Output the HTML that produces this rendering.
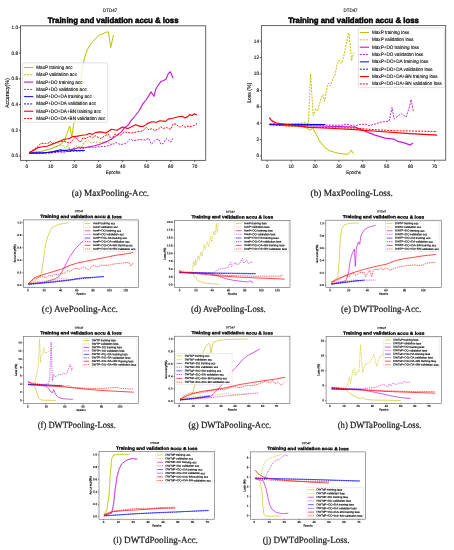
<!DOCTYPE html><html><head><meta charset="utf-8"><style>html,body{margin:0;padding:0;background:#fff;width:454px;height:550px;overflow:hidden}svg{display:block;filter:blur(0.35px)}text{font-family:"Liberation Sans",sans-serif;text-rendering:geometricPrecision}</style></head><body>
<svg width="454" height="550" viewBox="0 0 454 550">
<rect width="454" height="550" fill="#fff"/>
<clipPath id="cpa"><rect x="20.5" y="25.8" width="185.2" height="134.6"/></clipPath>
<g clip-path="url(#cpa)">
<polyline points="29.40,152.90 42.60,151.10 51.40,148.50 60.00,145.00 64.40,141.00 67.00,133.50 69.70,126.00 71.90,137.00 73.70,123.80 74.50,122.50 77.00,105.00 79.50,88.00 81.60,75.00 83.20,63.50 85.40,54.70 87.60,49.20 90.90,43.70 95.30,38.80 99.70,34.90 103.00,33.80 106.30,32.20 108.30,31.80 110.70,47.60 113.50,34.90" fill="none" stroke="#bfbf00" stroke-width="1.0" stroke-linejoin="round" stroke-linecap="butt"/>
<polyline points="29.40,152.90 42.60,151.10 51.40,148.50 60.20,145.00 62.60,145.00 65.30,148.50 67.90,144.50 70.60,152.00 73.20,148.50 76.70,145.80 82.00,146.70 83.80,142.30 86.40,141.00 89.10,141.00 91.70,143.20 95.20,141.90 100.00,142.30 106.00,141.90 111.50,144.00 113.10,143.00" fill="none" stroke="#bfbf00" stroke-width="1.0" stroke-dasharray="1.9 1.2" stroke-linejoin="round" stroke-linecap="butt"/>
<polyline points="29.40,153.20 45.00,152.80 60.00,151.10 68.80,149.80 77.60,148.00 86.40,147.20 95.00,145.70 100.50,144.00 106.00,141.90 111.50,139.10 117.00,135.20 121.40,131.90 124.70,127.50 128.00,125.30 131.30,120.40 134.60,116.50 139.00,111.00 142.40,104.40 146.40,99.50 151.10,91.90 153.90,96.30 156.00,88.50 161.00,81.40 163.20,80.80 166.00,79.20 168.20,73.70 170.40,71.80 173.10,78.40" fill="none" stroke="#c41ccf" stroke-width="1.15" stroke-linejoin="round" stroke-linecap="butt"/>
<polyline points="29.40,153.50 50.00,153.00 60.00,152.00 64.40,152.90 68.80,148.90 73.20,150.20 77.60,147.60 82.00,148.90 86.40,147.60 95.20,147.20 100.00,146.70 106.00,146.30 113.70,144.00 115.90,142.40 120.30,144.60 125.80,143.50 130.20,139.10 133.50,140.70 140.00,139.50 145.50,140.00 148.60,138.20 151.40,144.10 156.40,139.50 158.60,139.10 160.90,144.10 163.20,143.60 166.40,138.60 170.90,142.30 172.70,138.60" fill="none" stroke="#c41ccf" stroke-width="1.0" stroke-dasharray="1.9 1.2" stroke-linejoin="round" stroke-linecap="butt"/>
<polyline points="29.40,152.90 42.60,152.90 51.40,152.00 60.00,149.80 68.80,151.10 73.20,150.20 77.60,150.70 84.70,150.40" fill="none" stroke="#0000ff" stroke-width="1.0" stroke-linejoin="round" stroke-linecap="butt"/>
<polyline points="29.40,153.20 42.60,153.10 51.40,152.40 60.20,150.90 68.80,151.40 77.60,150.90 84.70,150.70" fill="none" stroke="#0000ff" stroke-width="1.0" stroke-dasharray="1.9 1.2" stroke-linejoin="round" stroke-linecap="butt"/>
<polyline points="29.40,152.40 33.80,150.20 38.20,147.60 42.60,146.70 47.00,146.30 51.40,144.50 55.80,142.80 60.20,141.00 64.40,139.20 68.80,138.80 73.20,136.60 77.60,136.10 82.00,135.30 86.40,134.80 89.10,133.50 92.60,134.40 95.20,132.60 100.50,131.90 106.00,133.00 111.50,129.20 117.00,130.30 122.50,127.00 128.00,128.60 135.70,124.80 140.00,126.40 143.60,126.40 147.30,123.60 151.80,121.80 156.40,122.30 160.00,120.70 165.50,121.40 168.20,119.10 172.70,118.20 178.20,116.70 182.30,116.30 185.10,117.90 187.20,117.10 189.60,114.60 192.10,115.50 194.50,113.70 197.00,115.00" fill="none" stroke="#ff0000" stroke-width="1.15" stroke-linejoin="round" stroke-linecap="butt"/>
<polyline points="29.40,152.40 38.20,146.30 40.90,143.20 45.30,143.60 48.80,142.80 50.50,141.40 51.90,143.60 55.80,142.80 60.20,141.40 64.40,141.40 69.70,143.20 73.20,139.70 75.40,137.00 77.60,139.70 80.30,142.30 82.90,137.90 86.40,138.80 89.10,136.10 92.60,137.90 95.20,135.70 100.50,138.50 108.20,134.10 111.50,139.60 114.80,134.10 120.30,135.20 124.70,131.90 131.30,133.00 136.90,131.90 142.70,130.90 146.40,127.30 149.10,130.00 151.80,128.60 154.50,130.50 158.20,129.10 160.90,126.80 163.60,128.60 166.40,127.30 170.50,129.50 173.30,123.60 176.50,124.50 179.80,127.30 182.30,125.30 185.10,127.30 188.00,126.10 191.30,126.50 194.50,125.30 197.00,123.60" fill="none" stroke="#ff0000" stroke-width="1.0" stroke-dasharray="1.9 1.2" stroke-linejoin="round" stroke-linecap="butt"/>
</g>
<rect x="22.7" y="62.9" width="85.0" height="59.300000000000004" fill="#fff" fill-opacity="0.8" stroke="#cccccc" stroke-width="0.60" rx="1.20"/>
<polyline points="24.10,67.50 33.30,67.50" fill="none" stroke="#bfbf00" stroke-width="1.0" stroke-linejoin="round" stroke-linecap="butt"/>
<g transform="translate(36.30 68.98) scale(0.9345 1)"><text x="0" y="0" font-size="4.920" text-anchor="start" fill="#000" stroke="#000" stroke-width="0.098">MaxP training acc</text></g>
<polyline points="24.10,74.79 33.30,74.79" fill="none" stroke="#bfbf00" stroke-width="1.0" stroke-dasharray="1.9 1.2" stroke-linejoin="round" stroke-linecap="butt"/>
<g transform="translate(36.30 76.26) scale(0.9335 1)"><text x="0" y="0" font-size="4.920" text-anchor="start" fill="#000" stroke="#000" stroke-width="0.098">MaxP validation acc</text></g>
<polyline points="24.10,82.07 33.30,82.07" fill="none" stroke="#c41ccf" stroke-width="1.15" stroke-linejoin="round" stroke-linecap="butt"/>
<g transform="translate(36.30 83.55) scale(0.9377 1)"><text x="0" y="0" font-size="4.920" text-anchor="start" fill="#000" stroke="#000" stroke-width="0.098">MaxP+DO training acc</text></g>
<polyline points="24.10,89.36 33.30,89.36" fill="none" stroke="#c41ccf" stroke-width="1.0" stroke-dasharray="1.9 1.2" stroke-linejoin="round" stroke-linecap="butt"/>
<g transform="translate(36.30 90.83) scale(0.9366 1)"><text x="0" y="0" font-size="4.920" text-anchor="start" fill="#000" stroke="#000" stroke-width="0.098">MaxP+DO validation acc</text></g>
<polyline points="24.10,96.64 33.30,96.64" fill="none" stroke="#0000ff" stroke-width="1.0" stroke-linejoin="round" stroke-linecap="butt"/>
<g transform="translate(36.30 98.12) scale(0.9458 1)"><text x="0" y="0" font-size="4.920" text-anchor="start" fill="#000" stroke="#000" stroke-width="0.098">MaxP+DO+DA training acc</text></g>
<polyline points="24.10,103.93 33.30,103.93" fill="none" stroke="#0000ff" stroke-width="1.0" stroke-dasharray="1.9 1.2" stroke-linejoin="round" stroke-linecap="butt"/>
<g transform="translate(36.30 105.40) scale(0.9442 1)"><text x="0" y="0" font-size="4.920" text-anchor="start" fill="#000" stroke="#000" stroke-width="0.098">MaxP+DO+DA validation acc</text></g>
<polyline points="24.10,111.21 33.30,111.21" fill="none" stroke="#ff0000" stroke-width="1.15" stroke-linejoin="round" stroke-linecap="butt"/>
<g transform="translate(36.30 112.69) scale(0.9440 1)"><text x="0" y="0" font-size="4.920" text-anchor="start" fill="#000" stroke="#000" stroke-width="0.098">MaxP+DO+DA+BN training acc</text></g>
<polyline points="24.10,118.50 33.30,118.50" fill="none" stroke="#ff0000" stroke-width="1.0" stroke-dasharray="1.9 1.2" stroke-linejoin="round" stroke-linecap="butt"/>
<g transform="translate(36.30 119.98) scale(0.9428 1)"><text x="0" y="0" font-size="4.920" text-anchor="start" fill="#000" stroke="#000" stroke-width="0.098">MaxP+DO+DA+BN validation acc</text></g>
<rect x="20.5" y="25.8" width="185.2" height="134.6" fill="none" stroke="#555" stroke-width="0.90"/>
<line x1="26.70" y1="160.4" x2="26.70" y2="162.00" stroke="#333" stroke-width="0.80"/>
<g transform="translate(26.70 167.80) scale(0.9533 1)"><text x="0" y="0" font-size="4.920" text-anchor="middle" fill="#000" stroke="#000" stroke-width="0.098">0</text></g>
<line x1="50.70" y1="160.4" x2="50.70" y2="162.00" stroke="#333" stroke-width="0.80"/>
<g transform="translate(50.70 167.80) scale(0.9533 1)"><text x="0" y="0" font-size="4.920" text-anchor="middle" fill="#000" stroke="#000" stroke-width="0.098">10</text></g>
<line x1="74.70" y1="160.4" x2="74.70" y2="162.00" stroke="#333" stroke-width="0.80"/>
<g transform="translate(74.70 167.80) scale(0.9533 1)"><text x="0" y="0" font-size="4.920" text-anchor="middle" fill="#000" stroke="#000" stroke-width="0.098">20</text></g>
<line x1="98.70" y1="160.4" x2="98.70" y2="162.00" stroke="#333" stroke-width="0.80"/>
<g transform="translate(98.70 167.80) scale(0.9533 1)"><text x="0" y="0" font-size="4.920" text-anchor="middle" fill="#000" stroke="#000" stroke-width="0.098">30</text></g>
<line x1="122.70" y1="160.4" x2="122.70" y2="162.00" stroke="#333" stroke-width="0.80"/>
<g transform="translate(122.70 167.80) scale(0.9533 1)"><text x="0" y="0" font-size="4.920" text-anchor="middle" fill="#000" stroke="#000" stroke-width="0.098">40</text></g>
<line x1="146.70" y1="160.4" x2="146.70" y2="162.00" stroke="#333" stroke-width="0.80"/>
<g transform="translate(146.70 167.80) scale(0.9533 1)"><text x="0" y="0" font-size="4.920" text-anchor="middle" fill="#000" stroke="#000" stroke-width="0.098">50</text></g>
<line x1="170.70" y1="160.4" x2="170.70" y2="162.00" stroke="#333" stroke-width="0.80"/>
<g transform="translate(170.70 167.80) scale(0.9533 1)"><text x="0" y="0" font-size="4.920" text-anchor="middle" fill="#000" stroke="#000" stroke-width="0.098">60</text></g>
<line x1="194.70" y1="160.4" x2="194.70" y2="162.00" stroke="#333" stroke-width="0.80"/>
<g transform="translate(194.70 167.80) scale(0.9533 1)"><text x="0" y="0" font-size="4.920" text-anchor="middle" fill="#000" stroke="#000" stroke-width="0.098">70</text></g>
<line x1="18.90" y1="156.00" x2="20.5" y2="156.00" stroke="#333" stroke-width="0.80"/>
<g transform="translate(18.10 157.48) scale(0.9533 1)"><text x="0" y="0" font-size="4.920" text-anchor="end" fill="#000" stroke="#000" stroke-width="0.098">0.0</text></g>
<line x1="18.90" y1="130.30" x2="20.5" y2="130.30" stroke="#333" stroke-width="0.80"/>
<g transform="translate(18.10 131.78) scale(0.9533 1)"><text x="0" y="0" font-size="4.920" text-anchor="end" fill="#000" stroke="#000" stroke-width="0.098">0.2</text></g>
<line x1="18.90" y1="104.60" x2="20.5" y2="104.60" stroke="#333" stroke-width="0.80"/>
<g transform="translate(18.10 106.08) scale(0.9533 1)"><text x="0" y="0" font-size="4.920" text-anchor="end" fill="#000" stroke="#000" stroke-width="0.098">0.4</text></g>
<line x1="18.90" y1="78.90" x2="20.5" y2="78.90" stroke="#333" stroke-width="0.80"/>
<g transform="translate(18.10 80.38) scale(0.9533 1)"><text x="0" y="0" font-size="4.920" text-anchor="end" fill="#000" stroke="#000" stroke-width="0.098">0.6</text></g>
<line x1="18.90" y1="53.20" x2="20.5" y2="53.20" stroke="#333" stroke-width="0.80"/>
<g transform="translate(18.10 54.68) scale(0.9533 1)"><text x="0" y="0" font-size="4.920" text-anchor="end" fill="#000" stroke="#000" stroke-width="0.098">0.8</text></g>
<line x1="18.90" y1="27.50" x2="20.5" y2="27.50" stroke="#333" stroke-width="0.80"/>
<g transform="translate(18.10 28.98) scale(0.9533 1)"><text x="0" y="0" font-size="4.920" text-anchor="end" fill="#000" stroke="#000" stroke-width="0.098">1.0</text></g>
<g transform="translate(113.10 174.30) scale(0.8952 1)"><text x="0" y="0" font-size="4.920" text-anchor="middle" fill="#000" stroke="#000" stroke-width="0.098">Epochs</text></g>
<g transform="translate(9.40 93.10) rotate(-90) scale(0.9257 1)"><text x="0" y="0" font-size="5.658" text-anchor="middle" fill="#000" stroke="#000" stroke-width="0.113">Accuracy(%)</text></g>
<g transform="translate(113.10 22.80) scale(0.9813 1)"><text x="0" y="0" font-size="7.980" text-anchor="middle" font-weight="bold" fill="#000" stroke="#000" stroke-width="0.479">Training and validation accu &amp; loss</text></g>
<g transform="translate(110.10 11.90) scale(0.9006 1)"><text x="0" y="0" font-size="4.920" text-anchor="middle" fill="#000" stroke="#000" stroke-width="0.098">DTD47</text></g>
<text x="71.7" y="195.9" style="font-family:'Liberation Serif',serif" font-size="9.4" textLength="77.3" lengthAdjust="spacingAndGlyphs" fill="#1a1a1a" stroke="#1a1a1a" stroke-width="0.22">(a) MaxPooling-Acc.</text>
<clipPath id="cpb"><rect x="261.4" y="25.6" width="184.3" height="134.6"/></clipPath>
<g clip-path="url(#cpb)">
<polyline points="269.80,124.50 280.00,124.50 295.80,123.80 301.30,123.20 305.70,122.70 308.40,123.80 310.60,73.90 313.20,115.80 315.90,108.80 317.60,111.00 321.10,98.20 322.90,94.70 324.70,101.30 326.40,90.30 328.40,83.10 330.40,85.80 333.00,77.90 335.00,75.20 337.00,64.60 339.00,60.00 341.60,63.30 343.60,56.70 345.60,47.50 346.90,40.90 348.90,32.90 350.20,44.80 351.50,60.70 353.50,52.80" fill="none" stroke="#bfbf00" stroke-width="1.0" stroke-dasharray="1.9 1.2" stroke-linejoin="round" stroke-linecap="butt"/>
<polyline points="269.80,124.50 285.00,125.50 300.00,126.50 305.00,127.10 309.80,130.10 312.90,128.30 315.90,133.80 319.50,141.00 324.40,147.10 329.20,150.50 335.30,152.50 341.40,153.80 348.00,154.40 351.10,150.10 353.50,153.80" fill="none" stroke="#bfbf00" stroke-width="1.0" stroke-linejoin="round" stroke-linecap="butt"/>
<polyline points="269.80,124.60 300.00,125.50 325.00,126.30 340.00,126.60 355.00,127.10 365.00,131.10 375.00,135.10 385.10,138.10 394.10,139.10 397.10,141.10 405.10,143.10 410.10,145.10 413.10,143.10" fill="none" stroke="#c41ccf" stroke-width="1.15" stroke-linejoin="round" stroke-linecap="butt"/>
<polyline points="269.80,124.80 325.00,125.00 341.40,125.30 346.20,124.10 351.10,125.30 355.00,126.10 359.00,124.50 365.00,124.10 369.00,125.70 375.00,124.10 381.10,122.10 389.10,121.10 392.10,107.60 394.10,119.10 401.10,113.60 406.10,117.10 409.10,108.00 411.10,99.60 413.50,112.00" fill="none" stroke="#c41ccf" stroke-width="1.0" stroke-dasharray="1.9 1.2" stroke-linejoin="round" stroke-linecap="butt"/>
<polyline points="269.40,124.10 325.00,124.50" fill="none" stroke="#0000ff" stroke-width="1.0" stroke-linejoin="round" stroke-linecap="butt"/>
<polyline points="269.40,124.40 325.00,124.80" fill="none" stroke="#0000ff" stroke-width="1.0" stroke-dasharray="1.9 1.2" stroke-linejoin="round" stroke-linecap="butt"/>
<polyline points="269.40,117.70 271.60,120.50 276.00,122.70 281.50,123.80 287.00,124.60 298.00,126.00 309.10,127.40 329.20,128.30 355.00,129.60 380.00,131.50 410.00,133.60 437.20,135.10" fill="none" stroke="#ff0000" stroke-width="1.15" stroke-linejoin="round" stroke-linecap="butt"/>
<polyline points="269.40,118.20 272.00,121.50 276.00,125.00 287.00,126.00 298.00,126.30 309.10,127.10 329.20,127.70 355.00,128.10 375.00,129.70 395.10,130.70 415.10,131.10 437.20,131.50" fill="none" stroke="#ff0000" stroke-width="1.0" stroke-dasharray="1.9 1.2" stroke-linejoin="round" stroke-linecap="butt"/>
</g>
<rect x="358.4" y="27.9" width="85.90000000000003" height="59.699999999999996" fill="#fff" fill-opacity="0.8" stroke="#cccccc" stroke-width="0.60" rx="1.20"/>
<polyline points="359.80,32.50 369.00,32.50" fill="none" stroke="#bfbf00" stroke-width="1.0" stroke-linejoin="round" stroke-linecap="butt"/>
<g transform="translate(372.00 33.98) scale(0.9315 1)"><text x="0" y="0" font-size="4.920" text-anchor="start" fill="#000" stroke="#000" stroke-width="0.098">MaxP training loss</text></g>
<polyline points="359.80,39.84 369.00,39.84" fill="none" stroke="#bfbf00" stroke-width="1.0" stroke-dasharray="1.9 1.2" stroke-linejoin="round" stroke-linecap="butt"/>
<g transform="translate(372.00 41.32) scale(0.9308 1)"><text x="0" y="0" font-size="4.920" text-anchor="start" fill="#000" stroke="#000" stroke-width="0.098">MaxP validation loss</text></g>
<polyline points="359.80,47.19 369.00,47.19" fill="none" stroke="#c41ccf" stroke-width="1.15" stroke-linejoin="round" stroke-linecap="butt"/>
<g transform="translate(372.00 48.66) scale(0.9352 1)"><text x="0" y="0" font-size="4.920" text-anchor="start" fill="#000" stroke="#000" stroke-width="0.098">MaxP+DO training loss</text></g>
<polyline points="359.80,54.53 369.00,54.53" fill="none" stroke="#c41ccf" stroke-width="1.0" stroke-dasharray="1.9 1.2" stroke-linejoin="round" stroke-linecap="butt"/>
<g transform="translate(372.00 56.00) scale(0.9343 1)"><text x="0" y="0" font-size="4.920" text-anchor="start" fill="#000" stroke="#000" stroke-width="0.098">MaxP+DO validation loss</text></g>
<polyline points="359.80,61.87 369.00,61.87" fill="none" stroke="#0000ff" stroke-width="1.0" stroke-linejoin="round" stroke-linecap="butt"/>
<g transform="translate(372.00 63.35) scale(0.9435 1)"><text x="0" y="0" font-size="4.920" text-anchor="start" fill="#000" stroke="#000" stroke-width="0.098">MaxP+DO+DA training loss</text></g>
<polyline points="359.80,69.21 369.00,69.21" fill="none" stroke="#0000ff" stroke-width="1.0" stroke-dasharray="1.9 1.2" stroke-linejoin="round" stroke-linecap="butt"/>
<g transform="translate(372.00 70.69) scale(0.9422 1)"><text x="0" y="0" font-size="4.920" text-anchor="start" fill="#000" stroke="#000" stroke-width="0.098">MaxP+DO+DA validation loss</text></g>
<polyline points="359.80,76.56 369.00,76.56" fill="none" stroke="#ff0000" stroke-width="1.15" stroke-linejoin="round" stroke-linecap="butt"/>
<g transform="translate(372.00 78.03) scale(0.9421 1)"><text x="0" y="0" font-size="4.920" text-anchor="start" fill="#000" stroke="#000" stroke-width="0.098">MaxP+DO+DA+BN training loss</text></g>
<polyline points="359.80,83.90 369.00,83.90" fill="none" stroke="#ff0000" stroke-width="1.0" stroke-dasharray="1.9 1.2" stroke-linejoin="round" stroke-linecap="butt"/>
<g transform="translate(372.00 85.38) scale(0.9410 1)"><text x="0" y="0" font-size="4.920" text-anchor="start" fill="#000" stroke="#000" stroke-width="0.098">MaxP+DO+DA+BN validation loss</text></g>
<rect x="261.4" y="25.6" width="184.3" height="134.6" fill="none" stroke="#555" stroke-width="0.90"/>
<line x1="267.20" y1="160.2" x2="267.20" y2="161.80" stroke="#333" stroke-width="0.80"/>
<g transform="translate(267.20 167.60) scale(0.9533 1)"><text x="0" y="0" font-size="4.920" text-anchor="middle" fill="#000" stroke="#000" stroke-width="0.098">0</text></g>
<line x1="291.10" y1="160.2" x2="291.10" y2="161.80" stroke="#333" stroke-width="0.80"/>
<g transform="translate(291.10 167.60) scale(0.9533 1)"><text x="0" y="0" font-size="4.920" text-anchor="middle" fill="#000" stroke="#000" stroke-width="0.098">10</text></g>
<line x1="315.00" y1="160.2" x2="315.00" y2="161.80" stroke="#333" stroke-width="0.80"/>
<g transform="translate(315.00 167.60) scale(0.9533 1)"><text x="0" y="0" font-size="4.920" text-anchor="middle" fill="#000" stroke="#000" stroke-width="0.098">20</text></g>
<line x1="338.90" y1="160.2" x2="338.90" y2="161.80" stroke="#333" stroke-width="0.80"/>
<g transform="translate(338.90 167.60) scale(0.9533 1)"><text x="0" y="0" font-size="4.920" text-anchor="middle" fill="#000" stroke="#000" stroke-width="0.098">30</text></g>
<line x1="362.80" y1="160.2" x2="362.80" y2="161.80" stroke="#333" stroke-width="0.80"/>
<g transform="translate(362.80 167.60) scale(0.9533 1)"><text x="0" y="0" font-size="4.920" text-anchor="middle" fill="#000" stroke="#000" stroke-width="0.098">40</text></g>
<line x1="386.70" y1="160.2" x2="386.70" y2="161.80" stroke="#333" stroke-width="0.80"/>
<g transform="translate(386.70 167.60) scale(0.9533 1)"><text x="0" y="0" font-size="4.920" text-anchor="middle" fill="#000" stroke="#000" stroke-width="0.098">50</text></g>
<line x1="410.60" y1="160.2" x2="410.60" y2="161.80" stroke="#333" stroke-width="0.80"/>
<g transform="translate(410.60 167.60) scale(0.9533 1)"><text x="0" y="0" font-size="4.920" text-anchor="middle" fill="#000" stroke="#000" stroke-width="0.098">60</text></g>
<line x1="434.50" y1="160.2" x2="434.50" y2="161.80" stroke="#333" stroke-width="0.80"/>
<g transform="translate(434.50 167.60) scale(0.9533 1)"><text x="0" y="0" font-size="4.920" text-anchor="middle" fill="#000" stroke="#000" stroke-width="0.098">70</text></g>
<line x1="259.80" y1="156.00" x2="261.4" y2="156.00" stroke="#333" stroke-width="0.80"/>
<g transform="translate(259.00 157.48) scale(0.9533 1)"><text x="0" y="0" font-size="4.920" text-anchor="end" fill="#000" stroke="#000" stroke-width="0.098">0</text></g>
<line x1="259.80" y1="139.60" x2="261.4" y2="139.60" stroke="#333" stroke-width="0.80"/>
<g transform="translate(259.00 141.08) scale(0.9533 1)"><text x="0" y="0" font-size="4.920" text-anchor="end" fill="#000" stroke="#000" stroke-width="0.098">2</text></g>
<line x1="259.80" y1="123.20" x2="261.4" y2="123.20" stroke="#333" stroke-width="0.80"/>
<g transform="translate(259.00 124.68) scale(0.9533 1)"><text x="0" y="0" font-size="4.920" text-anchor="end" fill="#000" stroke="#000" stroke-width="0.098">4</text></g>
<line x1="259.80" y1="106.80" x2="261.4" y2="106.80" stroke="#333" stroke-width="0.80"/>
<g transform="translate(259.00 108.28) scale(0.9533 1)"><text x="0" y="0" font-size="4.920" text-anchor="end" fill="#000" stroke="#000" stroke-width="0.098">6</text></g>
<line x1="259.80" y1="90.40" x2="261.4" y2="90.40" stroke="#333" stroke-width="0.80"/>
<g transform="translate(259.00 91.88) scale(0.9533 1)"><text x="0" y="0" font-size="4.920" text-anchor="end" fill="#000" stroke="#000" stroke-width="0.098">8</text></g>
<line x1="259.80" y1="74.00" x2="261.4" y2="74.00" stroke="#333" stroke-width="0.80"/>
<g transform="translate(259.00 75.48) scale(0.9533 1)"><text x="0" y="0" font-size="4.920" text-anchor="end" fill="#000" stroke="#000" stroke-width="0.098">10</text></g>
<line x1="259.80" y1="57.60" x2="261.4" y2="57.60" stroke="#333" stroke-width="0.80"/>
<g transform="translate(259.00 59.08) scale(0.9533 1)"><text x="0" y="0" font-size="4.920" text-anchor="end" fill="#000" stroke="#000" stroke-width="0.098">12</text></g>
<line x1="259.80" y1="41.20" x2="261.4" y2="41.20" stroke="#333" stroke-width="0.80"/>
<g transform="translate(259.00 42.68) scale(0.9533 1)"><text x="0" y="0" font-size="4.920" text-anchor="end" fill="#000" stroke="#000" stroke-width="0.098">14</text></g>
<g transform="translate(353.55 174.10) scale(0.8952 1)"><text x="0" y="0" font-size="4.920" text-anchor="middle" fill="#000" stroke="#000" stroke-width="0.098">Epochs</text></g>
<g transform="translate(251.30 92.90) rotate(-90) scale(0.8959 1)"><text x="0" y="0" font-size="5.658" text-anchor="middle" fill="#000" stroke="#000" stroke-width="0.113">Loss (%)</text></g>
<g transform="translate(353.55 22.60) scale(0.9813 1)"><text x="0" y="0" font-size="7.980" text-anchor="middle" font-weight="bold" fill="#000" stroke="#000" stroke-width="0.479">Training and validation accu &amp; loss</text></g>
<g transform="translate(350.55 11.70) scale(0.9006 1)"><text x="0" y="0" font-size="4.920" text-anchor="middle" fill="#000" stroke="#000" stroke-width="0.098">DTD47</text></g>
<text x="310.6" y="195.9" style="font-family:'Liberation Serif',serif" font-size="9.4" textLength="82.3" lengthAdjust="spacingAndGlyphs" fill="#1a1a1a" stroke="#1a1a1a" stroke-width="0.22">(b) MaxPooling-Loss.</text>
<clipPath id="cpc"><rect x="23.3" y="219.9" width="115.3" height="67.49999999999997"/></clipPath>
<g clip-path="url(#cpc)">
<polyline points="28.40,283.50 34.00,281.70 39.00,277.90 41.50,272.90 43.40,260.40 44.70,250.30 45.90,242.80 47.80,236.50 50.30,230.30 52.80,227.10 56.60,225.30 61.60,223.80 67.90,223.00" fill="none" stroke="#bfbf00" stroke-width="0.62" stroke-linejoin="round" stroke-linecap="butt"/>
<polyline points="28.40,283.50 36.50,281.70 49.10,280.40 61.60,278.50 67.90,277.90" fill="none" stroke="#bfbf00" stroke-width="0.62" stroke-dasharray="1.4 0.8" stroke-linejoin="round" stroke-linecap="butt"/>
<polyline points="28.40,284.00 45.00,282.00 54.10,279.20 59.10,276.60 64.10,267.90 69.10,257.80 74.60,249.80 79.30,244.40 83.90,240.60 87.00,237.50 92.00,233.00" fill="none" stroke="#c41ccf" stroke-width="0.713" stroke-linejoin="round" stroke-linecap="butt"/>
<polyline points="28.20,284.00 59.10,280.50 84.90,278.50 92.00,278.00" fill="none" stroke="#c41ccf" stroke-width="0.62" stroke-dasharray="1.4 0.8" stroke-linejoin="round" stroke-linecap="butt"/>
<polyline points="28.40,284.20 42.80,282.90 55.30,281.70 70.00,279.90 77.70,278.40 85.40,277.60 93.10,277.30 103.90,276.40" fill="none" stroke="#0000ff" stroke-width="0.62" stroke-linejoin="round" stroke-linecap="butt"/>
<polyline points="28.40,284.50 42.80,283.30 55.30,282.00 70.00,280.30 85.40,278.00 103.90,276.80" fill="none" stroke="#0000ff" stroke-width="0.62" stroke-dasharray="1.4 0.8" stroke-linejoin="round" stroke-linecap="butt"/>
<polyline points="28.40,283.50 34.00,277.90 39.00,276.00 49.10,272.90 61.60,269.10 70.00,265.30 77.70,262.90 85.40,261.40 93.10,259.90 100.80,258.30 108.50,256.80 116.30,255.20 124.00,254.20 131.70,252.90 133.20,252.10" fill="none" stroke="#ff0000" stroke-width="0.713" stroke-linejoin="round" stroke-linecap="butt"/>
<polyline points="28.40,283.50 34.00,279.20 38.00,277.50 42.80,276.60 46.00,277.80 49.10,275.40 52.00,276.00 55.30,274.10 58.00,275.00 61.60,272.90 64.00,273.80 67.90,270.40 70.00,271.40 74.60,268.30 79.30,269.10 83.90,266.80 88.50,269.90 93.10,265.30 97.80,266.80 100.80,265.30 108.50,265.30 112.00,264.30 116.30,263.70 124.00,262.90 128.60,262.20 130.90,266.00 133.20,262.90" fill="none" stroke="#ff0000" stroke-width="0.62" stroke-dasharray="1.4 0.8" stroke-linejoin="round" stroke-linecap="butt"/>
</g>
<rect x="83.6" y="221.1" width="54.099999999999994" height="30.400000000000006" fill="#fff" fill-opacity="0.8" stroke="#cccccc" stroke-width="0.37" rx="0.75"/>
<polyline points="84.80,223.50 90.50,223.50" fill="none" stroke="#bfbf00" stroke-width="0.62" stroke-linejoin="round" stroke-linecap="butt"/>
<g transform="translate(93.10 224.24) rotate(0.3) scale(1.0645 1)"><text x="0" y="0" font-size="2.686" text-anchor="start" fill="#000" stroke="#000" stroke-width="0.134">AveP training acc</text></g>
<polyline points="84.80,227.14 90.50,227.14" fill="none" stroke="#bfbf00" stroke-width="0.62" stroke-dasharray="1.4 0.8" stroke-linejoin="round" stroke-linecap="butt"/>
<g transform="translate(93.10 227.88) rotate(0.3) scale(1.0637 1)"><text x="0" y="0" font-size="2.686" text-anchor="start" fill="#000" stroke="#000" stroke-width="0.134">AveP validation acc</text></g>
<polyline points="84.80,230.79 90.50,230.79" fill="none" stroke="#c41ccf" stroke-width="0.713" stroke-linejoin="round" stroke-linecap="butt"/>
<g transform="translate(93.10 231.52) rotate(0.3) scale(1.0689 1)"><text x="0" y="0" font-size="2.686" text-anchor="start" fill="#000" stroke="#000" stroke-width="0.134">AveP+DO training acc</text></g>
<polyline points="84.80,234.43 90.50,234.43" fill="none" stroke="#c41ccf" stroke-width="0.62" stroke-dasharray="1.4 0.8" stroke-linejoin="round" stroke-linecap="butt"/>
<g transform="translate(93.10 235.17) rotate(0.3) scale(1.0679 1)"><text x="0" y="0" font-size="2.686" text-anchor="start" fill="#000" stroke="#000" stroke-width="0.134">AveP+DO validation acc</text></g>
<polyline points="84.80,238.07 90.50,238.07" fill="none" stroke="#0000ff" stroke-width="0.62" stroke-linejoin="round" stroke-linecap="butt"/>
<g transform="translate(93.10 238.81) rotate(0.3) scale(1.0788 1)"><text x="0" y="0" font-size="2.686" text-anchor="start" fill="#000" stroke="#000" stroke-width="0.134">AveP+DO+DA training acc</text></g>
<polyline points="84.80,241.71 90.50,241.71" fill="none" stroke="#0000ff" stroke-width="0.62" stroke-dasharray="1.4 0.8" stroke-linejoin="round" stroke-linecap="butt"/>
<g transform="translate(93.10 242.45) rotate(0.3) scale(1.0772 1)"><text x="0" y="0" font-size="2.686" text-anchor="start" fill="#000" stroke="#000" stroke-width="0.134">AveP+DO+DA validation acc</text></g>
<polyline points="84.80,245.36 90.50,245.36" fill="none" stroke="#ff0000" stroke-width="0.713" stroke-linejoin="round" stroke-linecap="butt"/>
<g transform="translate(93.10 246.09) rotate(0.3) scale(1.0770 1)"><text x="0" y="0" font-size="2.686" text-anchor="start" fill="#000" stroke="#000" stroke-width="0.134">AveP+DO+DA+BN training acc</text></g>
<polyline points="84.80,249.00 90.50,249.00" fill="none" stroke="#ff0000" stroke-width="0.62" stroke-dasharray="1.4 0.8" stroke-linejoin="round" stroke-linecap="butt"/>
<g transform="translate(93.10 249.74) rotate(0.3) scale(1.0757 1)"><text x="0" y="0" font-size="2.686" text-anchor="start" fill="#000" stroke="#000" stroke-width="0.134">AveP+DO+DA+BN validation acc</text></g>
<rect x="23.3" y="219.9" width="115.3" height="67.49999999999997" fill="none" stroke="#555" stroke-width="0.56"/>
<line x1="27.90" y1="287.4" x2="27.90" y2="288.50" stroke="#333" stroke-width="0.50"/>
<g transform="translate(27.90 291.20) rotate(0.3) scale(1.0895 1)"><text x="0" y="0" font-size="2.686" text-anchor="middle" fill="#000" stroke="#000" stroke-width="0.134">0</text></g>
<line x1="44.20" y1="287.4" x2="44.20" y2="288.50" stroke="#333" stroke-width="0.50"/>
<g transform="translate(44.20 291.20) rotate(0.3) scale(1.0895 1)"><text x="0" y="0" font-size="2.686" text-anchor="middle" fill="#000" stroke="#000" stroke-width="0.134">20</text></g>
<line x1="60.50" y1="287.4" x2="60.50" y2="288.50" stroke="#333" stroke-width="0.50"/>
<g transform="translate(60.50 291.20) rotate(0.3) scale(1.0895 1)"><text x="0" y="0" font-size="2.686" text-anchor="middle" fill="#000" stroke="#000" stroke-width="0.134">40</text></g>
<line x1="76.80" y1="287.4" x2="76.80" y2="288.50" stroke="#333" stroke-width="0.50"/>
<g transform="translate(76.80 291.20) rotate(0.3) scale(1.0895 1)"><text x="0" y="0" font-size="2.686" text-anchor="middle" fill="#000" stroke="#000" stroke-width="0.134">60</text></g>
<line x1="93.10" y1="287.4" x2="93.10" y2="288.50" stroke="#333" stroke-width="0.50"/>
<g transform="translate(93.10 291.20) rotate(0.3) scale(1.0895 1)"><text x="0" y="0" font-size="2.686" text-anchor="middle" fill="#000" stroke="#000" stroke-width="0.134">80</text></g>
<line x1="109.40" y1="287.4" x2="109.40" y2="288.50" stroke="#333" stroke-width="0.50"/>
<g transform="translate(109.40 291.20) rotate(0.3) scale(1.0895 1)"><text x="0" y="0" font-size="2.686" text-anchor="middle" fill="#000" stroke="#000" stroke-width="0.134">100</text></g>
<line x1="125.70" y1="287.4" x2="125.70" y2="288.50" stroke="#333" stroke-width="0.50"/>
<g transform="translate(125.70 291.20) rotate(0.3) scale(1.0895 1)"><text x="0" y="0" font-size="2.686" text-anchor="middle" fill="#000" stroke="#000" stroke-width="0.134">120</text></g>
<line x1="22.20" y1="285.20" x2="23.3" y2="285.20" stroke="#333" stroke-width="0.50"/>
<g transform="translate(21.30 285.94) rotate(0.3) scale(1.0895 1)"><text x="0" y="0" font-size="2.686" text-anchor="end" fill="#000" stroke="#000" stroke-width="0.134">0.0</text></g>
<line x1="22.20" y1="272.70" x2="23.3" y2="272.70" stroke="#333" stroke-width="0.50"/>
<g transform="translate(21.30 273.44) rotate(0.3) scale(1.0895 1)"><text x="0" y="0" font-size="2.686" text-anchor="end" fill="#000" stroke="#000" stroke-width="0.134">0.2</text></g>
<line x1="22.20" y1="260.20" x2="23.3" y2="260.20" stroke="#333" stroke-width="0.50"/>
<g transform="translate(21.30 260.94) rotate(0.3) scale(1.0895 1)"><text x="0" y="0" font-size="2.686" text-anchor="end" fill="#000" stroke="#000" stroke-width="0.134">0.4</text></g>
<line x1="22.20" y1="247.70" x2="23.3" y2="247.70" stroke="#333" stroke-width="0.50"/>
<g transform="translate(21.30 248.44) rotate(0.3) scale(1.0895 1)"><text x="0" y="0" font-size="2.686" text-anchor="end" fill="#000" stroke="#000" stroke-width="0.134">0.6</text></g>
<line x1="22.20" y1="235.20" x2="23.3" y2="235.20" stroke="#333" stroke-width="0.50"/>
<g transform="translate(21.30 235.94) rotate(0.3) scale(1.0895 1)"><text x="0" y="0" font-size="2.686" text-anchor="end" fill="#000" stroke="#000" stroke-width="0.134">0.8</text></g>
<line x1="22.20" y1="222.70" x2="23.3" y2="222.70" stroke="#333" stroke-width="0.50"/>
<g transform="translate(21.30 223.44) rotate(0.3) scale(1.0895 1)"><text x="0" y="0" font-size="2.686" text-anchor="end" fill="#000" stroke="#000" stroke-width="0.134">1.0</text></g>
<g transform="translate(80.95 294.70) rotate(0.3) scale(1.0231 1)"><text x="0" y="0" font-size="2.686" text-anchor="middle" fill="#000" stroke="#000" stroke-width="0.134">Epochs</text></g>
<g transform="translate(15.80 253.65) rotate(-89.7) scale(1.0580 1)"><text x="0" y="0" font-size="3.089" text-anchor="middle" fill="#000" stroke="#000" stroke-width="0.154">Accuracy(%)</text></g>
<g transform="translate(80.95 218.00) rotate(0.3) scale(1.1215 1)"><text x="0" y="0" font-size="4.357" text-anchor="middle" font-weight="bold" fill="#000" stroke="#000" stroke-width="0.261">Training and validation accu &amp; loss</text></g>
<g transform="translate(79.05 212.30) rotate(0.3) scale(1.0293 1)"><text x="0" y="0" font-size="2.686" text-anchor="middle" fill="#000" stroke="#000" stroke-width="0.134">DTD47</text></g>
<text x="41.8" y="311.7" style="font-family:'Liberation Serif',serif" font-size="9.4" textLength="76.1" lengthAdjust="spacingAndGlyphs" fill="#1a1a1a" stroke="#1a1a1a" stroke-width="0.22">(c) AvePooling-Acc.</text>
<clipPath id="cpd"><rect x="174.7" y="220.3" width="115.30000000000001" height="67.09999999999997"/></clipPath>
<g clip-path="url(#cpd)">
<polyline points="180.40,270.80 186.00,271.50 192.20,271.70 193.50,261.20 194.20,266.40 195.50,259.90 196.10,265.10 198.10,256.00 199.40,259.90 200.70,252.00 202.00,256.00 204.00,244.20 205.30,249.40 207.30,241.60 208.60,246.80 210.50,236.30 211.80,241.60 213.80,231.10 215.10,235.00 216.40,223.20 217.00,232.40 219.00,223.20" fill="none" stroke="#bfbf00" stroke-width="0.62" stroke-dasharray="1.4 0.8" stroke-linejoin="round" stroke-linecap="butt"/>
<polyline points="179.30,271.50 192.20,272.90 195.00,276.50 197.90,280.80 203.60,282.90 210.80,283.60 219.40,284.30" fill="none" stroke="#bfbf00" stroke-width="0.62" stroke-linejoin="round" stroke-linecap="butt"/>
<polyline points="179.30,272.20 209.40,273.60 218.00,275.80 225.10,278.50 232.30,280.10 240.00,281.20 248.30,282.00 249.70,280.80 253.30,282.70" fill="none" stroke="#c41ccf" stroke-width="0.713" stroke-linejoin="round" stroke-linecap="butt"/>
<polyline points="179.30,272.40 213.70,272.90 216.50,270.70 220.80,268.60 225.00,268.20 227.90,267.40 230.80,262.40 231.50,266.70 235.20,262.40 235.90,264.50 239.50,263.80 242.40,258.40 243.90,263.10 246.80,260.20 248.30,263.80 249.70,262.40 252.60,262.40" fill="none" stroke="#c41ccf" stroke-width="0.62" stroke-dasharray="1.4 0.8" stroke-linejoin="round" stroke-linecap="butt"/>
<polyline points="179.30,272.50 240.00,273.30 255.50,273.50" fill="none" stroke="#0000ff" stroke-width="0.62" stroke-linejoin="round" stroke-linecap="butt"/>
<polyline points="179.30,272.90 240.00,273.70 255.50,273.90" fill="none" stroke="#0000ff" stroke-width="0.62" stroke-dasharray="1.4 0.8" stroke-linejoin="round" stroke-linecap="butt"/>
<polyline points="179.30,270.00 180.70,272.20 189.30,272.90 203.60,274.30 218.00,275.80 240.00,277.20 284.60,279.10" fill="none" stroke="#ff0000" stroke-width="0.713" stroke-linejoin="round" stroke-linecap="butt"/>
<polyline points="179.30,270.50 180.70,272.20 218.00,274.30 225.00,275.40 254.10,276.20 281.00,276.20 281.70,275.00 283.10,276.20" fill="none" stroke="#ff0000" stroke-width="0.62" stroke-dasharray="1.4 0.8" stroke-linejoin="round" stroke-linecap="butt"/>
</g>
<rect x="234.6" y="221" width="54.099999999999994" height="30.5" fill="#fff" fill-opacity="0.8" stroke="#cccccc" stroke-width="0.37" rx="0.75"/>
<polyline points="235.80,223.40 241.50,223.40" fill="none" stroke="#bfbf00" stroke-width="0.62" stroke-linejoin="round" stroke-linecap="butt"/>
<g transform="translate(244.10 224.14) rotate(0.3) scale(1.0611 1)"><text x="0" y="0" font-size="2.686" text-anchor="start" fill="#000" stroke="#000" stroke-width="0.134">AveP training loss</text></g>
<polyline points="235.80,227.06 241.50,227.06" fill="none" stroke="#bfbf00" stroke-width="0.62" stroke-dasharray="1.4 0.8" stroke-linejoin="round" stroke-linecap="butt"/>
<g transform="translate(244.10 227.79) rotate(0.3) scale(1.0606 1)"><text x="0" y="0" font-size="2.686" text-anchor="start" fill="#000" stroke="#000" stroke-width="0.134">AveP validation loss</text></g>
<polyline points="235.80,230.71 241.50,230.71" fill="none" stroke="#c41ccf" stroke-width="0.713" stroke-linejoin="round" stroke-linecap="butt"/>
<g transform="translate(244.10 231.45) rotate(0.3) scale(1.0661 1)"><text x="0" y="0" font-size="2.686" text-anchor="start" fill="#000" stroke="#000" stroke-width="0.134">AveP+DO training loss</text></g>
<polyline points="235.80,234.37 241.50,234.37" fill="none" stroke="#c41ccf" stroke-width="0.62" stroke-dasharray="1.4 0.8" stroke-linejoin="round" stroke-linecap="butt"/>
<g transform="translate(244.10 235.11) rotate(0.3) scale(1.0653 1)"><text x="0" y="0" font-size="2.686" text-anchor="start" fill="#000" stroke="#000" stroke-width="0.134">AveP+DO validation loss</text></g>
<polyline points="235.80,238.03 241.50,238.03" fill="none" stroke="#0000ff" stroke-width="0.62" stroke-linejoin="round" stroke-linecap="butt"/>
<g transform="translate(244.10 238.77) rotate(0.3) scale(1.0762 1)"><text x="0" y="0" font-size="2.686" text-anchor="start" fill="#000" stroke="#000" stroke-width="0.134">AveP+DO+DA training loss</text></g>
<polyline points="235.80,241.69 241.50,241.69" fill="none" stroke="#0000ff" stroke-width="0.62" stroke-dasharray="1.4 0.8" stroke-linejoin="round" stroke-linecap="butt"/>
<g transform="translate(244.10 242.42) rotate(0.3) scale(1.0748 1)"><text x="0" y="0" font-size="2.686" text-anchor="start" fill="#000" stroke="#000" stroke-width="0.134">AveP+DO+DA validation loss</text></g>
<polyline points="235.80,245.34 241.50,245.34" fill="none" stroke="#ff0000" stroke-width="0.713" stroke-linejoin="round" stroke-linecap="butt"/>
<g transform="translate(244.10 246.08) rotate(0.3) scale(1.0748 1)"><text x="0" y="0" font-size="2.686" text-anchor="start" fill="#000" stroke="#000" stroke-width="0.134">AveP+DO+DA+BN training loss</text></g>
<polyline points="235.80,249.00 241.50,249.00" fill="none" stroke="#ff0000" stroke-width="0.62" stroke-dasharray="1.4 0.8" stroke-linejoin="round" stroke-linecap="butt"/>
<g transform="translate(244.10 249.74) rotate(0.3) scale(1.0737 1)"><text x="0" y="0" font-size="2.686" text-anchor="start" fill="#000" stroke="#000" stroke-width="0.134">AveP+DO+DA+BN validation loss</text></g>
<rect x="174.7" y="220.3" width="115.30000000000001" height="67.09999999999997" fill="none" stroke="#555" stroke-width="0.56"/>
<line x1="179.60" y1="287.4" x2="179.60" y2="288.50" stroke="#333" stroke-width="0.50"/>
<g transform="translate(179.60 291.20) rotate(0.3) scale(1.0895 1)"><text x="0" y="0" font-size="2.686" text-anchor="middle" fill="#000" stroke="#000" stroke-width="0.134">0</text></g>
<line x1="195.90" y1="287.4" x2="195.90" y2="288.50" stroke="#333" stroke-width="0.50"/>
<g transform="translate(195.90 291.20) rotate(0.3) scale(1.0895 1)"><text x="0" y="0" font-size="2.686" text-anchor="middle" fill="#000" stroke="#000" stroke-width="0.134">20</text></g>
<line x1="212.20" y1="287.4" x2="212.20" y2="288.50" stroke="#333" stroke-width="0.50"/>
<g transform="translate(212.20 291.20) rotate(0.3) scale(1.0895 1)"><text x="0" y="0" font-size="2.686" text-anchor="middle" fill="#000" stroke="#000" stroke-width="0.134">40</text></g>
<line x1="228.50" y1="287.4" x2="228.50" y2="288.50" stroke="#333" stroke-width="0.50"/>
<g transform="translate(228.50 291.20) rotate(0.3) scale(1.0895 1)"><text x="0" y="0" font-size="2.686" text-anchor="middle" fill="#000" stroke="#000" stroke-width="0.134">60</text></g>
<line x1="244.80" y1="287.4" x2="244.80" y2="288.50" stroke="#333" stroke-width="0.50"/>
<g transform="translate(244.80 291.20) rotate(0.3) scale(1.0895 1)"><text x="0" y="0" font-size="2.686" text-anchor="middle" fill="#000" stroke="#000" stroke-width="0.134">80</text></g>
<line x1="261.10" y1="287.4" x2="261.10" y2="288.50" stroke="#333" stroke-width="0.50"/>
<g transform="translate(261.10 291.20) rotate(0.3) scale(1.0895 1)"><text x="0" y="0" font-size="2.686" text-anchor="middle" fill="#000" stroke="#000" stroke-width="0.134">100</text></g>
<line x1="277.40" y1="287.4" x2="277.40" y2="288.50" stroke="#333" stroke-width="0.50"/>
<g transform="translate(277.40 291.20) rotate(0.3) scale(1.0895 1)"><text x="0" y="0" font-size="2.686" text-anchor="middle" fill="#000" stroke="#000" stroke-width="0.134">120</text></g>
<line x1="173.60" y1="284.80" x2="174.7" y2="284.80" stroke="#333" stroke-width="0.50"/>
<g transform="translate(172.70 285.54) rotate(0.3) scale(1.0895 1)"><text x="0" y="0" font-size="2.686" text-anchor="end" fill="#000" stroke="#000" stroke-width="0.134">0.0</text></g>
<line x1="173.60" y1="276.98" x2="174.7" y2="276.98" stroke="#333" stroke-width="0.50"/>
<g transform="translate(172.70 277.71) rotate(0.3) scale(1.0895 1)"><text x="0" y="0" font-size="2.686" text-anchor="end" fill="#000" stroke="#000" stroke-width="0.134">2.5</text></g>
<line x1="173.60" y1="269.15" x2="174.7" y2="269.15" stroke="#333" stroke-width="0.50"/>
<g transform="translate(172.70 269.89) rotate(0.3) scale(1.0895 1)"><text x="0" y="0" font-size="2.686" text-anchor="end" fill="#000" stroke="#000" stroke-width="0.134">5.0</text></g>
<line x1="173.60" y1="261.32" x2="174.7" y2="261.32" stroke="#333" stroke-width="0.50"/>
<g transform="translate(172.70 262.06) rotate(0.3) scale(1.0895 1)"><text x="0" y="0" font-size="2.686" text-anchor="end" fill="#000" stroke="#000" stroke-width="0.134">7.5</text></g>
<line x1="173.60" y1="253.50" x2="174.7" y2="253.50" stroke="#333" stroke-width="0.50"/>
<g transform="translate(172.70 254.24) rotate(0.3) scale(1.0895 1)"><text x="0" y="0" font-size="2.686" text-anchor="end" fill="#000" stroke="#000" stroke-width="0.134">10.0</text></g>
<line x1="173.60" y1="245.68" x2="174.7" y2="245.68" stroke="#333" stroke-width="0.50"/>
<g transform="translate(172.70 246.41) rotate(0.3) scale(1.0895 1)"><text x="0" y="0" font-size="2.686" text-anchor="end" fill="#000" stroke="#000" stroke-width="0.134">12.5</text></g>
<line x1="173.60" y1="237.85" x2="174.7" y2="237.85" stroke="#333" stroke-width="0.50"/>
<g transform="translate(172.70 238.59) rotate(0.3) scale(1.0895 1)"><text x="0" y="0" font-size="2.686" text-anchor="end" fill="#000" stroke="#000" stroke-width="0.134">15.0</text></g>
<line x1="173.60" y1="230.03" x2="174.7" y2="230.03" stroke="#333" stroke-width="0.50"/>
<g transform="translate(172.70 230.76) rotate(0.3) scale(1.0895 1)"><text x="0" y="0" font-size="2.686" text-anchor="end" fill="#000" stroke="#000" stroke-width="0.134">17.5</text></g>
<line x1="173.60" y1="222.20" x2="174.7" y2="222.20" stroke="#333" stroke-width="0.50"/>
<g transform="translate(172.70 222.94) rotate(0.3) scale(1.0895 1)"><text x="0" y="0" font-size="2.686" text-anchor="end" fill="#000" stroke="#000" stroke-width="0.134">20.0</text></g>
<g transform="translate(232.35 294.70) rotate(0.3) scale(1.0231 1)"><text x="0" y="0" font-size="2.686" text-anchor="middle" fill="#000" stroke="#000" stroke-width="0.134">Epochs</text></g>
<g transform="translate(165.80 253.85) rotate(-89.7) scale(1.0239 1)"><text x="0" y="0" font-size="3.089" text-anchor="middle" fill="#000" stroke="#000" stroke-width="0.154">Loss (%)</text></g>
<g transform="translate(232.35 218.40) rotate(0.3) scale(1.1215 1)"><text x="0" y="0" font-size="4.357" text-anchor="middle" font-weight="bold" fill="#000" stroke="#000" stroke-width="0.261">Training and validation accu &amp; loss</text></g>
<g transform="translate(230.45 212.70) rotate(0.3) scale(1.0293 1)"><text x="0" y="0" font-size="2.686" text-anchor="middle" fill="#000" stroke="#000" stroke-width="0.134">DTD47</text></g>
<text x="191" y="312" style="font-family:'Liberation Serif',serif" font-size="9.4" textLength="74.8" lengthAdjust="spacingAndGlyphs" fill="#1a1a1a" stroke="#1a1a1a" stroke-width="0.22">(d) AvePooling-Loss.</text>
<clipPath id="cpe"><rect x="325.8" y="220.2" width="115.5" height="67.19999999999999"/></clipPath>
<g clip-path="url(#cpe)">
<polyline points="331.30,283.40 337.90,276.80 339.20,259.60 340.50,235.90 341.90,228.60 344.50,224.60 349.80,223.30 359.00,222.90" fill="none" stroke="#bfbf00" stroke-width="0.62" stroke-linejoin="round" stroke-linecap="butt"/>
<polyline points="331.30,283.60 345.80,280.80 357.70,279.50" fill="none" stroke="#bfbf00" stroke-width="0.62" stroke-dasharray="1.4 0.8" stroke-linejoin="round" stroke-linecap="butt"/>
<polyline points="331.30,283.80 345.80,280.80 348.50,272.90 350.40,259.60 352.40,253.00 354.40,249.10 355.30,266.30 356.40,247.80 358.40,241.80 359.70,244.40 361.00,235.20 364.30,229.90 368.30,227.30 375.60,225.30" fill="none" stroke="#c41ccf" stroke-width="0.713" stroke-linejoin="round" stroke-linecap="butt"/>
<polyline points="331.30,284.00 350.00,281.50 364.30,280.10 375.60,280.10" fill="none" stroke="#c41ccf" stroke-width="0.62" stroke-dasharray="1.4 0.8" stroke-linejoin="round" stroke-linecap="butt"/>
<polyline points="331.30,284.10 345.80,282.10 355.10,280.80 364.30,280.10" fill="none" stroke="#0000ff" stroke-width="0.62" stroke-linejoin="round" stroke-linecap="butt"/>
<polyline points="331.30,284.40 345.80,282.50 355.10,281.20 364.30,280.50" fill="none" stroke="#0000ff" stroke-width="0.62" stroke-dasharray="1.4 0.8" stroke-linejoin="round" stroke-linecap="butt"/>
<polyline points="331.30,282.10 339.20,278.10 352.40,272.90 365.60,268.90 376.20,266.30 386.00,264.30 396.10,260.40 405.20,258.50 414.20,257.30 423.20,255.80 432.20,254.90 435.90,254.40" fill="none" stroke="#ff0000" stroke-width="0.713" stroke-linejoin="round" stroke-linecap="butt"/>
<polyline points="331.30,282.50 339.20,279.50 345.80,275.50 348.50,277.50 352.40,272.90 356.40,275.50 359.70,272.20 361.70,272.90 364.30,272.20 365.60,276.80 369.60,270.20 371.60,276.80 373.60,269.60 378.90,269.60 381.50,267.60 382.80,270.20 386.00,267.60 389.80,270.30 396.10,267.60 405.20,265.80 414.20,264.90 420.00,265.50 423.20,264.90 426.80,263.10 435.90,262.20" fill="none" stroke="#ff0000" stroke-width="0.62" stroke-dasharray="1.4 0.8" stroke-linejoin="round" stroke-linecap="butt"/>
</g>
<rect x="385.6" y="221.1" width="54.099999999999966" height="30.400000000000006" fill="#fff" fill-opacity="0.8" stroke="#cccccc" stroke-width="0.37" rx="0.75"/>
<polyline points="386.80,223.50 392.50,223.50" fill="none" stroke="#bfbf00" stroke-width="0.62" stroke-linejoin="round" stroke-linecap="butt"/>
<g transform="translate(395.10 224.24) rotate(0.3) scale(1.0529 1)"><text x="0" y="0" font-size="2.686" text-anchor="start" fill="#000" stroke="#000" stroke-width="0.134">DWTP training acc</text></g>
<polyline points="386.80,227.14 392.50,227.14" fill="none" stroke="#bfbf00" stroke-width="0.62" stroke-dasharray="1.4 0.8" stroke-linejoin="round" stroke-linecap="butt"/>
<g transform="translate(395.10 227.88) rotate(0.3) scale(1.0533 1)"><text x="0" y="0" font-size="2.686" text-anchor="start" fill="#000" stroke="#000" stroke-width="0.134">DWTP validation acc</text></g>
<polyline points="386.80,230.79 392.50,230.79" fill="none" stroke="#c41ccf" stroke-width="0.713" stroke-linejoin="round" stroke-linecap="butt"/>
<g transform="translate(395.10 231.52) rotate(0.3) scale(1.0594 1)"><text x="0" y="0" font-size="2.686" text-anchor="start" fill="#000" stroke="#000" stroke-width="0.134">DWTP+DO training acc</text></g>
<polyline points="386.80,234.43 392.50,234.43" fill="none" stroke="#c41ccf" stroke-width="0.62" stroke-dasharray="1.4 0.8" stroke-linejoin="round" stroke-linecap="butt"/>
<g transform="translate(395.10 235.17) rotate(0.3) scale(1.0592 1)"><text x="0" y="0" font-size="2.686" text-anchor="start" fill="#000" stroke="#000" stroke-width="0.134">DWTP+DO validation acc</text></g>
<polyline points="386.80,238.07 392.50,238.07" fill="none" stroke="#0000ff" stroke-width="0.62" stroke-linejoin="round" stroke-linecap="butt"/>
<g transform="translate(395.10 238.81) rotate(0.3) scale(1.0702 1)"><text x="0" y="0" font-size="2.686" text-anchor="start" fill="#000" stroke="#000" stroke-width="0.134">DWTP+DO+DA training acc</text></g>
<polyline points="386.80,241.71 392.50,241.71" fill="none" stroke="#0000ff" stroke-width="0.62" stroke-dasharray="1.4 0.8" stroke-linejoin="round" stroke-linecap="butt"/>
<g transform="translate(395.10 242.45) rotate(0.3) scale(1.0693 1)"><text x="0" y="0" font-size="2.686" text-anchor="start" fill="#000" stroke="#000" stroke-width="0.134">DWTP+DO+DA validation acc</text></g>
<polyline points="386.80,245.36 392.50,245.36" fill="none" stroke="#ff0000" stroke-width="0.713" stroke-linejoin="round" stroke-linecap="butt"/>
<g transform="translate(395.10 246.09) rotate(0.3) scale(1.0698 1)"><text x="0" y="0" font-size="2.686" text-anchor="start" fill="#000" stroke="#000" stroke-width="0.134">DWTP+DO+DA+BN training acc</text></g>
<polyline points="386.80,249.00 392.50,249.00" fill="none" stroke="#ff0000" stroke-width="0.62" stroke-dasharray="1.4 0.8" stroke-linejoin="round" stroke-linecap="butt"/>
<g transform="translate(395.10 249.74) rotate(0.3) scale(1.0690 1)"><text x="0" y="0" font-size="2.686" text-anchor="start" fill="#000" stroke="#000" stroke-width="0.134">DWTP+DO+DA+BN validation acc</text></g>
<rect x="325.8" y="220.2" width="115.5" height="67.19999999999999" fill="none" stroke="#555" stroke-width="0.56"/>
<line x1="330.00" y1="287.4" x2="330.00" y2="288.50" stroke="#333" stroke-width="0.50"/>
<g transform="translate(330.00 291.20) rotate(0.3) scale(1.0895 1)"><text x="0" y="0" font-size="2.686" text-anchor="middle" fill="#000" stroke="#000" stroke-width="0.134">0</text></g>
<line x1="348.64" y1="287.4" x2="348.64" y2="288.50" stroke="#333" stroke-width="0.50"/>
<g transform="translate(348.64 291.20) rotate(0.3) scale(1.0895 1)"><text x="0" y="0" font-size="2.686" text-anchor="middle" fill="#000" stroke="#000" stroke-width="0.134">20</text></g>
<line x1="367.28" y1="287.4" x2="367.28" y2="288.50" stroke="#333" stroke-width="0.50"/>
<g transform="translate(367.28 291.20) rotate(0.3) scale(1.0895 1)"><text x="0" y="0" font-size="2.686" text-anchor="middle" fill="#000" stroke="#000" stroke-width="0.134">40</text></g>
<line x1="385.92" y1="287.4" x2="385.92" y2="288.50" stroke="#333" stroke-width="0.50"/>
<g transform="translate(385.92 291.20) rotate(0.3) scale(1.0895 1)"><text x="0" y="0" font-size="2.686" text-anchor="middle" fill="#000" stroke="#000" stroke-width="0.134">60</text></g>
<line x1="404.56" y1="287.4" x2="404.56" y2="288.50" stroke="#333" stroke-width="0.50"/>
<g transform="translate(404.56 291.20) rotate(0.3) scale(1.0895 1)"><text x="0" y="0" font-size="2.686" text-anchor="middle" fill="#000" stroke="#000" stroke-width="0.134">80</text></g>
<line x1="423.20" y1="287.4" x2="423.20" y2="288.50" stroke="#333" stroke-width="0.50"/>
<g transform="translate(423.20 291.20) rotate(0.3) scale(1.0895 1)"><text x="0" y="0" font-size="2.686" text-anchor="middle" fill="#000" stroke="#000" stroke-width="0.134">100</text></g>
<line x1="324.70" y1="285.30" x2="325.8" y2="285.30" stroke="#333" stroke-width="0.50"/>
<g transform="translate(323.80 286.04) rotate(0.3) scale(1.0895 1)"><text x="0" y="0" font-size="2.686" text-anchor="end" fill="#000" stroke="#000" stroke-width="0.134">0.0</text></g>
<line x1="324.70" y1="272.95" x2="325.8" y2="272.95" stroke="#333" stroke-width="0.50"/>
<g transform="translate(323.80 273.69) rotate(0.3) scale(1.0895 1)"><text x="0" y="0" font-size="2.686" text-anchor="end" fill="#000" stroke="#000" stroke-width="0.134">0.2</text></g>
<line x1="324.70" y1="260.60" x2="325.8" y2="260.60" stroke="#333" stroke-width="0.50"/>
<g transform="translate(323.80 261.34) rotate(0.3) scale(1.0895 1)"><text x="0" y="0" font-size="2.686" text-anchor="end" fill="#000" stroke="#000" stroke-width="0.134">0.4</text></g>
<line x1="324.70" y1="248.25" x2="325.8" y2="248.25" stroke="#333" stroke-width="0.50"/>
<g transform="translate(323.80 248.99) rotate(0.3) scale(1.0895 1)"><text x="0" y="0" font-size="2.686" text-anchor="end" fill="#000" stroke="#000" stroke-width="0.134">0.6</text></g>
<line x1="324.70" y1="235.90" x2="325.8" y2="235.90" stroke="#333" stroke-width="0.50"/>
<g transform="translate(323.80 236.64) rotate(0.3) scale(1.0895 1)"><text x="0" y="0" font-size="2.686" text-anchor="end" fill="#000" stroke="#000" stroke-width="0.134">0.8</text></g>
<line x1="324.70" y1="223.55" x2="325.8" y2="223.55" stroke="#333" stroke-width="0.50"/>
<g transform="translate(323.80 224.29) rotate(0.3) scale(1.0895 1)"><text x="0" y="0" font-size="2.686" text-anchor="end" fill="#000" stroke="#000" stroke-width="0.134">1.0</text></g>
<g transform="translate(383.55 294.70) rotate(0.3) scale(1.0231 1)"><text x="0" y="0" font-size="2.686" text-anchor="middle" fill="#000" stroke="#000" stroke-width="0.134">Epochs</text></g>
<g transform="translate(318.00 253.80) rotate(-89.7) scale(1.0580 1)"><text x="0" y="0" font-size="3.089" text-anchor="middle" fill="#000" stroke="#000" stroke-width="0.154">Accuracy(%)</text></g>
<g transform="translate(383.55 218.30) rotate(0.3) scale(1.1215 1)"><text x="0" y="0" font-size="4.357" text-anchor="middle" font-weight="bold" fill="#000" stroke="#000" stroke-width="0.261">Training and validation accu &amp; loss</text></g>
<g transform="translate(381.65 212.60) rotate(0.3) scale(1.0293 1)"><text x="0" y="0" font-size="2.686" text-anchor="middle" fill="#000" stroke="#000" stroke-width="0.134">DTD47</text></g>
<text x="341" y="312" style="font-family:'Liberation Serif',serif" font-size="9.4" textLength="80.3" lengthAdjust="spacingAndGlyphs" fill="#1a1a1a" stroke="#1a1a1a" stroke-width="0.22">(e) DWTPooling-Acc.</text>
<clipPath id="cpf"><rect x="23.6" y="336.3" width="114.70000000000002" height="67.39999999999998"/></clipPath>
<g clip-path="url(#cpf)">
<polyline points="28.00,384.20 34.60,385.60 35.90,377.00 37.20,373.00 38.50,362.40 39.60,338.60 40.50,362.40 41.20,357.10 43.20,353.20 43.80,347.90 45.10,353.20 47.80,351.90 51.80,349.20 55.70,345.90" fill="none" stroke="#bfbf00" stroke-width="0.62" stroke-dasharray="1.4 0.8" stroke-linejoin="round" stroke-linecap="butt"/>
<polyline points="28.00,384.20 34.60,386.20 36.60,391.50 38.50,398.10 41.20,400.10 55.70,400.50" fill="none" stroke="#bfbf00" stroke-width="0.62" stroke-linejoin="round" stroke-linecap="butt"/>
<polyline points="28.00,384.40 46.50,386.20 49.10,388.90 50.40,391.50 52.40,392.80 53.70,389.50 55.70,394.80 58.40,397.50 63.60,398.80 72.90,399.40" fill="none" stroke="#c41ccf" stroke-width="0.713" stroke-linejoin="round" stroke-linecap="butt"/>
<polyline points="28.00,384.60 47.80,384.20 49.80,378.30 51.10,342.00 52.40,380.90 53.70,374.30 55.70,377.00 58.40,374.30 61.00,375.00 63.60,373.00 66.30,374.30 68.90,367.70 70.30,364.40 71.60,370.40 72.90,367.70" fill="none" stroke="#c41ccf" stroke-width="0.62" stroke-dasharray="1.4 0.8" stroke-linejoin="round" stroke-linecap="butt"/>
<polyline points="28.00,384.20 62.30,385.60" fill="none" stroke="#0000ff" stroke-width="0.62" stroke-linejoin="round" stroke-linecap="butt"/>
<polyline points="28.00,384.60 62.30,386.00" fill="none" stroke="#0000ff" stroke-width="0.62" stroke-dasharray="1.4 0.8" stroke-linejoin="round" stroke-linecap="butt"/>
<polyline points="28.00,381.60 31.90,383.80 43.80,385.60 63.60,386.90 84.00,388.90 100.30,390.40 133.80,392.20" fill="none" stroke="#ff0000" stroke-width="0.713" stroke-linejoin="round" stroke-linecap="butt"/>
<polyline points="28.00,382.00 43.80,385.00 67.60,386.20 68.90,385.20 70.30,386.90 84.00,388.30 100.30,388.60 118.40,387.30 120.00,388.50 133.80,389.10" fill="none" stroke="#ff0000" stroke-width="0.62" stroke-dasharray="1.4 0.8" stroke-linejoin="round" stroke-linecap="butt"/>
</g>
<rect x="82.3" y="338.1" width="54.60000000000001" height="29.099999999999966" fill="#fff" fill-opacity="0.8" stroke="#cccccc" stroke-width="0.37" rx="0.75"/>
<polyline points="83.50,340.50 89.20,340.50" fill="none" stroke="#bfbf00" stroke-width="0.62" stroke-linejoin="round" stroke-linecap="butt"/>
<g transform="translate(91.80 341.24) rotate(0.3) scale(1.0499 1)"><text x="0" y="0" font-size="2.686" text-anchor="start" fill="#000" stroke="#000" stroke-width="0.134">DWTP training loss</text></g>
<polyline points="83.50,343.96 89.20,343.96" fill="none" stroke="#bfbf00" stroke-width="0.62" stroke-dasharray="1.4 0.8" stroke-linejoin="round" stroke-linecap="butt"/>
<g transform="translate(91.80 344.69) rotate(0.3) scale(1.0506 1)"><text x="0" y="0" font-size="2.686" text-anchor="start" fill="#000" stroke="#000" stroke-width="0.134">DWTP validation loss</text></g>
<polyline points="83.50,347.41 89.20,347.41" fill="none" stroke="#c41ccf" stroke-width="0.713" stroke-linejoin="round" stroke-linecap="butt"/>
<g transform="translate(91.80 348.15) rotate(0.3) scale(1.0569 1)"><text x="0" y="0" font-size="2.686" text-anchor="start" fill="#000" stroke="#000" stroke-width="0.134">DWTP+DO training loss</text></g>
<polyline points="83.50,350.87 89.20,350.87" fill="none" stroke="#c41ccf" stroke-width="0.62" stroke-dasharray="1.4 0.8" stroke-linejoin="round" stroke-linecap="butt"/>
<g transform="translate(91.80 351.61) rotate(0.3) scale(1.0569 1)"><text x="0" y="0" font-size="2.686" text-anchor="start" fill="#000" stroke="#000" stroke-width="0.134">DWTP+DO validation loss</text></g>
<polyline points="83.50,354.33 89.20,354.33" fill="none" stroke="#0000ff" stroke-width="0.62" stroke-linejoin="round" stroke-linecap="butt"/>
<g transform="translate(91.80 355.07) rotate(0.3) scale(1.0679 1)"><text x="0" y="0" font-size="2.686" text-anchor="start" fill="#000" stroke="#000" stroke-width="0.134">DWTP+DO+DA training loss</text></g>
<polyline points="83.50,357.79 89.20,357.79" fill="none" stroke="#0000ff" stroke-width="0.62" stroke-dasharray="1.4 0.8" stroke-linejoin="round" stroke-linecap="butt"/>
<g transform="translate(91.80 358.52) rotate(0.3) scale(1.0672 1)"><text x="0" y="0" font-size="2.686" text-anchor="start" fill="#000" stroke="#000" stroke-width="0.134">DWTP+DO+DA validation loss</text></g>
<polyline points="83.50,361.24 89.20,361.24" fill="none" stroke="#ff0000" stroke-width="0.713" stroke-linejoin="round" stroke-linecap="butt"/>
<g transform="translate(91.80 361.98) rotate(0.3) scale(1.0678 1)"><text x="0" y="0" font-size="2.686" text-anchor="start" fill="#000" stroke="#000" stroke-width="0.134">DWTP+DO+DA+BN training loss</text></g>
<polyline points="83.50,364.70 89.20,364.70" fill="none" stroke="#ff0000" stroke-width="0.62" stroke-dasharray="1.4 0.8" stroke-linejoin="round" stroke-linecap="butt"/>
<g transform="translate(91.80 365.44) rotate(0.3) scale(1.0671 1)"><text x="0" y="0" font-size="2.686" text-anchor="start" fill="#000" stroke="#000" stroke-width="0.134">DWTP+DO+DA+BN validation loss</text></g>
<rect x="23.6" y="336.3" width="114.70000000000002" height="67.39999999999998" fill="none" stroke="#555" stroke-width="0.56"/>
<line x1="27.90" y1="403.7" x2="27.90" y2="404.80" stroke="#333" stroke-width="0.50"/>
<g transform="translate(27.90 407.50) rotate(0.3) scale(1.0895 1)"><text x="0" y="0" font-size="2.686" text-anchor="middle" fill="#000" stroke="#000" stroke-width="0.134">0</text></g>
<line x1="46.30" y1="403.7" x2="46.30" y2="404.80" stroke="#333" stroke-width="0.50"/>
<g transform="translate(46.30 407.50) rotate(0.3) scale(1.0895 1)"><text x="0" y="0" font-size="2.686" text-anchor="middle" fill="#000" stroke="#000" stroke-width="0.134">20</text></g>
<line x1="64.70" y1="403.7" x2="64.70" y2="404.80" stroke="#333" stroke-width="0.50"/>
<g transform="translate(64.70 407.50) rotate(0.3) scale(1.0895 1)"><text x="0" y="0" font-size="2.686" text-anchor="middle" fill="#000" stroke="#000" stroke-width="0.134">40</text></g>
<line x1="83.10" y1="403.7" x2="83.10" y2="404.80" stroke="#333" stroke-width="0.50"/>
<g transform="translate(83.10 407.50) rotate(0.3) scale(1.0895 1)"><text x="0" y="0" font-size="2.686" text-anchor="middle" fill="#000" stroke="#000" stroke-width="0.134">60</text></g>
<line x1="101.50" y1="403.7" x2="101.50" y2="404.80" stroke="#333" stroke-width="0.50"/>
<g transform="translate(101.50 407.50) rotate(0.3) scale(1.0895 1)"><text x="0" y="0" font-size="2.686" text-anchor="middle" fill="#000" stroke="#000" stroke-width="0.134">80</text></g>
<line x1="119.90" y1="403.7" x2="119.90" y2="404.80" stroke="#333" stroke-width="0.50"/>
<g transform="translate(119.90 407.50) rotate(0.3) scale(1.0895 1)"><text x="0" y="0" font-size="2.686" text-anchor="middle" fill="#000" stroke="#000" stroke-width="0.134">100</text></g>
<line x1="22.50" y1="400.50" x2="23.6" y2="400.50" stroke="#333" stroke-width="0.50"/>
<g transform="translate(21.60 401.24) rotate(0.3) scale(1.0895 1)"><text x="0" y="0" font-size="2.686" text-anchor="end" fill="#000" stroke="#000" stroke-width="0.134">0</text></g>
<line x1="22.50" y1="392.24" x2="23.6" y2="392.24" stroke="#333" stroke-width="0.50"/>
<g transform="translate(21.60 392.98) rotate(0.3) scale(1.0895 1)"><text x="0" y="0" font-size="2.686" text-anchor="end" fill="#000" stroke="#000" stroke-width="0.134">2</text></g>
<line x1="22.50" y1="383.98" x2="23.6" y2="383.98" stroke="#333" stroke-width="0.50"/>
<g transform="translate(21.60 384.72) rotate(0.3) scale(1.0895 1)"><text x="0" y="0" font-size="2.686" text-anchor="end" fill="#000" stroke="#000" stroke-width="0.134">4</text></g>
<line x1="22.50" y1="375.72" x2="23.6" y2="375.72" stroke="#333" stroke-width="0.50"/>
<g transform="translate(21.60 376.46) rotate(0.3) scale(1.0895 1)"><text x="0" y="0" font-size="2.686" text-anchor="end" fill="#000" stroke="#000" stroke-width="0.134">6</text></g>
<line x1="22.50" y1="367.46" x2="23.6" y2="367.46" stroke="#333" stroke-width="0.50"/>
<g transform="translate(21.60 368.20) rotate(0.3) scale(1.0895 1)"><text x="0" y="0" font-size="2.686" text-anchor="end" fill="#000" stroke="#000" stroke-width="0.134">8</text></g>
<line x1="22.50" y1="359.20" x2="23.6" y2="359.20" stroke="#333" stroke-width="0.50"/>
<g transform="translate(21.60 359.94) rotate(0.3) scale(1.0895 1)"><text x="0" y="0" font-size="2.686" text-anchor="end" fill="#000" stroke="#000" stroke-width="0.134">10</text></g>
<line x1="22.50" y1="350.94" x2="23.6" y2="350.94" stroke="#333" stroke-width="0.50"/>
<g transform="translate(21.60 351.68) rotate(0.3) scale(1.0895 1)"><text x="0" y="0" font-size="2.686" text-anchor="end" fill="#000" stroke="#000" stroke-width="0.134">12</text></g>
<line x1="22.50" y1="342.68" x2="23.6" y2="342.68" stroke="#333" stroke-width="0.50"/>
<g transform="translate(21.60 343.42) rotate(0.3) scale(1.0895 1)"><text x="0" y="0" font-size="2.686" text-anchor="end" fill="#000" stroke="#000" stroke-width="0.134">14</text></g>
<g transform="translate(80.95 411.00) rotate(0.3) scale(1.0231 1)"><text x="0" y="0" font-size="2.686" text-anchor="middle" fill="#000" stroke="#000" stroke-width="0.134">Epochs</text></g>
<g transform="translate(16.90 370.00) rotate(-89.7) scale(1.0239 1)"><text x="0" y="0" font-size="3.089" text-anchor="middle" fill="#000" stroke="#000" stroke-width="0.154">Loss (%)</text></g>
<g transform="translate(80.95 334.40) rotate(0.3) scale(1.1215 1)"><text x="0" y="0" font-size="4.357" text-anchor="middle" font-weight="bold" fill="#000" stroke="#000" stroke-width="0.261">Training and validation accu &amp; loss</text></g>
<g transform="translate(79.05 328.70) rotate(0.3) scale(1.0293 1)"><text x="0" y="0" font-size="2.686" text-anchor="middle" fill="#000" stroke="#000" stroke-width="0.134">DTD47</text></g>
<text x="37.7" y="428.1" style="font-family:'Liberation Serif',serif" font-size="9.4" textLength="78.1" lengthAdjust="spacingAndGlyphs" fill="#1a1a1a" stroke="#1a1a1a" stroke-width="0.22">(f) DWTPooling-Loss.</text>
<clipPath id="cpg"><rect x="174.6" y="336.2" width="115.29999999999998" height="67.10000000000002"/></clipPath>
<g clip-path="url(#cpg)">
<polyline points="180.00,399.80 187.20,397.10 191.20,394.00 192.70,392.90 195.30,382.70 197.80,370.10 200.50,360.00 202.90,352.50 205.40,347.40 207.90,343.60 209.70,343.80 211.00,353.00 213.00,342.50 218.10,340.60 225.70,339.50 248.50,339.00" fill="none" stroke="#bfbf00" stroke-width="0.62" stroke-linejoin="round" stroke-linecap="butt"/>
<polyline points="180.00,399.80 193.80,396.50 207.00,395.80 213.60,395.10 226.90,393.10 234.00,394.50 248.70,393.50" fill="none" stroke="#bfbf00" stroke-width="0.62" stroke-dasharray="1.4 0.8" stroke-linejoin="round" stroke-linecap="butt"/>
<polyline points="180.00,399.80 200.00,398.00 210.50,396.70 218.10,389.10 225.70,380.20 229.50,374.00 235.80,367.70 242.10,360.10 248.50,355.00 256.10,351.20 259.90,348.70" fill="none" stroke="#c41ccf" stroke-width="0.713" stroke-linejoin="round" stroke-linecap="butt"/>
<polyline points="180.00,400.00 207.90,397.90 225.70,395.90 238.30,394.90 258.60,392.90" fill="none" stroke="#c41ccf" stroke-width="0.62" stroke-dasharray="1.4 0.8" stroke-linejoin="round" stroke-linecap="butt"/>
<polyline points="180.00,399.80 195.00,398.00 209.70,395.80" fill="none" stroke="#0000ff" stroke-width="0.62" stroke-linejoin="round" stroke-linecap="butt"/>
<polyline points="180.00,400.20 195.00,398.50 209.70,396.30" fill="none" stroke="#0000ff" stroke-width="0.62" stroke-dasharray="1.4 0.8" stroke-linejoin="round" stroke-linecap="butt"/>
<polyline points="180.10,399.20 187.70,395.40 200.30,391.60 213.00,389.80 225.70,387.80 238.30,384.80 251.00,382.70 263.70,380.70 276.30,378.90 285.20,377.20" fill="none" stroke="#ff0000" stroke-width="0.713" stroke-linejoin="round" stroke-linecap="butt"/>
<polyline points="180.10,399.20 185.10,395.40 190.20,392.90 200.30,392.90 213.00,390.30 225.70,389.10 233.30,386.50 240.90,387.80 245.90,385.30 251.00,385.80 258.60,384.00 266.20,380.70 270.00,383.20 272.50,380.20 275.00,384.00 277.60,382.20 281.40,385.30 283.90,382.70" fill="none" stroke="#ff0000" stroke-width="0.62" stroke-dasharray="1.4 0.8" stroke-linejoin="round" stroke-linecap="butt"/>
</g>
<rect x="175.3" y="353.5" width="56.79999999999998" height="31.100000000000023" fill="#fff" fill-opacity="0.8" stroke="#cccccc" stroke-width="0.37" rx="0.75"/>
<polyline points="176.50,355.90 182.20,355.90" fill="none" stroke="#bfbf00" stroke-width="0.62" stroke-linejoin="round" stroke-linecap="butt"/>
<g transform="translate(184.80 356.64) rotate(0.3) scale(1.0480 1)"><text x="0" y="0" font-size="2.686" text-anchor="start" fill="#000" stroke="#000" stroke-width="0.134">DWTaP training acc</text></g>
<polyline points="176.50,359.64 182.20,359.64" fill="none" stroke="#bfbf00" stroke-width="0.62" stroke-dasharray="1.4 0.8" stroke-linejoin="round" stroke-linecap="butt"/>
<g transform="translate(184.80 360.38) rotate(0.3) scale(1.0489 1)"><text x="0" y="0" font-size="2.686" text-anchor="start" fill="#000" stroke="#000" stroke-width="0.134">DWTaP validation acc</text></g>
<polyline points="176.50,363.39 182.20,363.39" fill="none" stroke="#c41ccf" stroke-width="0.713" stroke-linejoin="round" stroke-linecap="butt"/>
<g transform="translate(184.80 364.12) rotate(0.3) scale(1.0551 1)"><text x="0" y="0" font-size="2.686" text-anchor="start" fill="#000" stroke="#000" stroke-width="0.134">DWTaP+DO training acc</text></g>
<polyline points="176.50,367.13 182.20,367.13" fill="none" stroke="#c41ccf" stroke-width="0.62" stroke-dasharray="1.4 0.8" stroke-linejoin="round" stroke-linecap="butt"/>
<g transform="translate(184.80 367.87) rotate(0.3) scale(1.0553 1)"><text x="0" y="0" font-size="2.686" text-anchor="start" fill="#000" stroke="#000" stroke-width="0.134">DWTaP+DO validation acc</text></g>
<polyline points="176.50,370.87 182.20,370.87" fill="none" stroke="#0000ff" stroke-width="0.62" stroke-linejoin="round" stroke-linecap="butt"/>
<g transform="translate(184.80 371.61) rotate(0.3) scale(1.0663 1)"><text x="0" y="0" font-size="2.686" text-anchor="start" fill="#000" stroke="#000" stroke-width="0.134">DWTaP+DO+DA training acc</text></g>
<polyline points="176.50,374.61 182.20,374.61" fill="none" stroke="#0000ff" stroke-width="0.62" stroke-dasharray="1.4 0.8" stroke-linejoin="round" stroke-linecap="butt"/>
<g transform="translate(184.80 375.35) rotate(0.3) scale(1.0657 1)"><text x="0" y="0" font-size="2.686" text-anchor="start" fill="#000" stroke="#000" stroke-width="0.134">DWTaP+DO+DA validation acc</text></g>
<polyline points="176.50,378.36 182.20,378.36" fill="none" stroke="#ff0000" stroke-width="0.713" stroke-linejoin="round" stroke-linecap="butt"/>
<g transform="translate(184.80 379.09) rotate(0.3) scale(1.0664 1)"><text x="0" y="0" font-size="2.686" text-anchor="start" fill="#000" stroke="#000" stroke-width="0.134">DWTaP+DO+DA+BN training acc</text></g>
<polyline points="176.50,382.10 182.20,382.10" fill="none" stroke="#ff0000" stroke-width="0.62" stroke-dasharray="1.4 0.8" stroke-linejoin="round" stroke-linecap="butt"/>
<g transform="translate(184.80 382.84) rotate(0.3) scale(1.0658 1)"><text x="0" y="0" font-size="2.686" text-anchor="start" fill="#000" stroke="#000" stroke-width="0.134">DWTaP+DO+DA+BN validation acc</text></g>
<rect x="174.6" y="336.2" width="115.29999999999998" height="67.10000000000002" fill="none" stroke="#555" stroke-width="0.56"/>
<line x1="179.30" y1="403.3" x2="179.30" y2="404.40" stroke="#333" stroke-width="0.50"/>
<g transform="translate(179.30 407.10) rotate(0.3) scale(1.0895 1)"><text x="0" y="0" font-size="2.686" text-anchor="middle" fill="#000" stroke="#000" stroke-width="0.134">0</text></g>
<line x1="193.20" y1="403.3" x2="193.20" y2="404.40" stroke="#333" stroke-width="0.50"/>
<g transform="translate(193.20 407.10) rotate(0.3) scale(1.0895 1)"><text x="0" y="0" font-size="2.686" text-anchor="middle" fill="#000" stroke="#000" stroke-width="0.134">10</text></g>
<line x1="207.10" y1="403.3" x2="207.10" y2="404.40" stroke="#333" stroke-width="0.50"/>
<g transform="translate(207.10 407.10) rotate(0.3) scale(1.0895 1)"><text x="0" y="0" font-size="2.686" text-anchor="middle" fill="#000" stroke="#000" stroke-width="0.134">20</text></g>
<line x1="221.00" y1="403.3" x2="221.00" y2="404.40" stroke="#333" stroke-width="0.50"/>
<g transform="translate(221.00 407.10) rotate(0.3) scale(1.0895 1)"><text x="0" y="0" font-size="2.686" text-anchor="middle" fill="#000" stroke="#000" stroke-width="0.134">30</text></g>
<line x1="234.90" y1="403.3" x2="234.90" y2="404.40" stroke="#333" stroke-width="0.50"/>
<g transform="translate(234.90 407.10) rotate(0.3) scale(1.0895 1)"><text x="0" y="0" font-size="2.686" text-anchor="middle" fill="#000" stroke="#000" stroke-width="0.134">40</text></g>
<line x1="248.80" y1="403.3" x2="248.80" y2="404.40" stroke="#333" stroke-width="0.50"/>
<g transform="translate(248.80 407.10) rotate(0.3) scale(1.0895 1)"><text x="0" y="0" font-size="2.686" text-anchor="middle" fill="#000" stroke="#000" stroke-width="0.134">50</text></g>
<line x1="262.70" y1="403.3" x2="262.70" y2="404.40" stroke="#333" stroke-width="0.50"/>
<g transform="translate(262.70 407.10) rotate(0.3) scale(1.0895 1)"><text x="0" y="0" font-size="2.686" text-anchor="middle" fill="#000" stroke="#000" stroke-width="0.134">60</text></g>
<line x1="276.60" y1="403.3" x2="276.60" y2="404.40" stroke="#333" stroke-width="0.50"/>
<g transform="translate(276.60 407.10) rotate(0.3) scale(1.0895 1)"><text x="0" y="0" font-size="2.686" text-anchor="middle" fill="#000" stroke="#000" stroke-width="0.134">70</text></g>
<line x1="173.50" y1="401.30" x2="174.6" y2="401.30" stroke="#333" stroke-width="0.50"/>
<g transform="translate(172.60 402.04) rotate(0.3) scale(1.0895 1)"><text x="0" y="0" font-size="2.686" text-anchor="end" fill="#000" stroke="#000" stroke-width="0.134">0.0</text></g>
<line x1="173.50" y1="388.85" x2="174.6" y2="388.85" stroke="#333" stroke-width="0.50"/>
<g transform="translate(172.60 389.59) rotate(0.3) scale(1.0895 1)"><text x="0" y="0" font-size="2.686" text-anchor="end" fill="#000" stroke="#000" stroke-width="0.134">0.2</text></g>
<line x1="173.50" y1="376.40" x2="174.6" y2="376.40" stroke="#333" stroke-width="0.50"/>
<g transform="translate(172.60 377.14) rotate(0.3) scale(1.0895 1)"><text x="0" y="0" font-size="2.686" text-anchor="end" fill="#000" stroke="#000" stroke-width="0.134">0.4</text></g>
<line x1="173.50" y1="363.95" x2="174.6" y2="363.95" stroke="#333" stroke-width="0.50"/>
<g transform="translate(172.60 364.69) rotate(0.3) scale(1.0895 1)"><text x="0" y="0" font-size="2.686" text-anchor="end" fill="#000" stroke="#000" stroke-width="0.134">0.6</text></g>
<line x1="173.50" y1="351.50" x2="174.6" y2="351.50" stroke="#333" stroke-width="0.50"/>
<g transform="translate(172.60 352.24) rotate(0.3) scale(1.0895 1)"><text x="0" y="0" font-size="2.686" text-anchor="end" fill="#000" stroke="#000" stroke-width="0.134">0.8</text></g>
<line x1="173.50" y1="339.05" x2="174.6" y2="339.05" stroke="#333" stroke-width="0.50"/>
<g transform="translate(172.60 339.79) rotate(0.3) scale(1.0895 1)"><text x="0" y="0" font-size="2.686" text-anchor="end" fill="#000" stroke="#000" stroke-width="0.134">1.0</text></g>
<g transform="translate(232.25 410.60) rotate(0.3) scale(1.0231 1)"><text x="0" y="0" font-size="2.686" text-anchor="middle" fill="#000" stroke="#000" stroke-width="0.134">Epochs</text></g>
<g transform="translate(167.00 369.75) rotate(-89.7) scale(1.0580 1)"><text x="0" y="0" font-size="3.089" text-anchor="middle" fill="#000" stroke="#000" stroke-width="0.154">Accuracy(%)</text></g>
<g transform="translate(232.25 334.30) rotate(0.3) scale(1.1215 1)"><text x="0" y="0" font-size="4.357" text-anchor="middle" font-weight="bold" fill="#000" stroke="#000" stroke-width="0.261">Training and validation accu &amp; loss</text></g>
<g transform="translate(230.35 328.60) rotate(0.3) scale(1.0293 1)"><text x="0" y="0" font-size="2.686" text-anchor="middle" fill="#000" stroke="#000" stroke-width="0.134">DTD47</text></g>
<text x="188.4" y="428.1" style="font-family:'Liberation Serif',serif" font-size="9.4" textLength="82.9" lengthAdjust="spacingAndGlyphs" fill="#1a1a1a" stroke="#1a1a1a" stroke-width="0.22">(g) DWTaPooling-Acc.</text>
<clipPath id="cph"><rect x="326.1" y="336.5" width="115.19999999999999" height="66.80000000000001"/></clipPath>
<g clip-path="url(#cph)">
<polyline points="331.60,387.50 340.10,387.50 345.70,388.20 347.80,383.90 349.30,376.90 350.70,383.90 352.80,369.80 354.20,368.40 355.60,375.50 357.70,371.20 359.10,371.20 360.50,344.50 362.70,372.70 365.50,364.20 368.30,363.50 371.10,360.00 373.90,354.30 376.70,366.30 379.60,356.40 382.40,355.70 384.50,349.40 386.00,345.00" fill="none" stroke="#bfbf00" stroke-width="0.62" stroke-dasharray="1.4 0.8" stroke-linejoin="round" stroke-linecap="butt"/>
<polyline points="331.60,388.20 345.70,389.60 351.40,394.50 357.00,397.30 360.50,398.70 362.70,397.30 365.50,399.40 373.90,400.10 385.00,400.20 400.70,400.50" fill="none" stroke="#bfbf00" stroke-width="0.62" stroke-linejoin="round" stroke-linecap="butt"/>
<polyline points="331.60,388.50 361.20,389.60 375.30,392.40 385.00,394.50 391.30,395.80 397.60,397.00 403.80,397.90 410.70,398.60" fill="none" stroke="#c41ccf" stroke-width="0.713" stroke-linejoin="round" stroke-linecap="butt"/>
<polyline points="331.60,388.70 361.20,388.90 375.30,387.50 382.40,384.60 385.00,385.10 387.50,387.00 389.40,383.80 390.60,386.30 392.50,383.20 396.30,384.50 400.10,382.60 401.90,383.80 403.80,381.30 406.30,382.30 410.70,382.30" fill="none" stroke="#c41ccf" stroke-width="0.62" stroke-dasharray="1.4 0.8" stroke-linejoin="round" stroke-linecap="butt"/>
<polyline points="331.60,388.90 361.20,389.30" fill="none" stroke="#0000ff" stroke-width="0.62" stroke-linejoin="round" stroke-linecap="butt"/>
<polyline points="331.60,389.30 361.20,389.70" fill="none" stroke="#0000ff" stroke-width="0.62" stroke-dasharray="1.4 0.8" stroke-linejoin="round" stroke-linecap="butt"/>
<polyline points="331.60,387.50 347.10,389.30 368.30,390.30 385.00,391.40 435.20,393.20" fill="none" stroke="#ff0000" stroke-width="0.713" stroke-linejoin="round" stroke-linecap="butt"/>
<polyline points="331.60,387.30 347.10,389.00 368.30,389.80 385.00,390.70 410.10,391.60 435.20,391.60" fill="none" stroke="#ff0000" stroke-width="0.62" stroke-dasharray="1.4 0.8" stroke-linejoin="round" stroke-linecap="butt"/>
</g>
<rect x="383.8" y="337.6" width="55.89999999999998" height="29.599999999999966" fill="#fff" fill-opacity="0.8" stroke="#cccccc" stroke-width="0.37" rx="0.75"/>
<polyline points="385.00,340.00 390.70,340.00" fill="none" stroke="#bfbf00" stroke-width="0.62" stroke-linejoin="round" stroke-linecap="butt"/>
<g transform="translate(393.30 340.74) rotate(0.3) scale(1.0453 1)"><text x="0" y="0" font-size="2.686" text-anchor="start" fill="#000" stroke="#000" stroke-width="0.134">DWTaP training loss</text></g>
<polyline points="385.00,343.53 390.70,343.53" fill="none" stroke="#bfbf00" stroke-width="0.62" stroke-dasharray="1.4 0.8" stroke-linejoin="round" stroke-linecap="butt"/>
<g transform="translate(393.30 344.27) rotate(0.3) scale(1.0464 1)"><text x="0" y="0" font-size="2.686" text-anchor="start" fill="#000" stroke="#000" stroke-width="0.134">DWTaP validation loss</text></g>
<polyline points="385.00,347.06 390.70,347.06" fill="none" stroke="#c41ccf" stroke-width="0.713" stroke-linejoin="round" stroke-linecap="butt"/>
<g transform="translate(393.30 347.79) rotate(0.3) scale(1.0528 1)"><text x="0" y="0" font-size="2.686" text-anchor="start" fill="#000" stroke="#000" stroke-width="0.134">DWTaP+DO training loss</text></g>
<polyline points="385.00,350.59 390.70,350.59" fill="none" stroke="#c41ccf" stroke-width="0.62" stroke-dasharray="1.4 0.8" stroke-linejoin="round" stroke-linecap="butt"/>
<g transform="translate(393.30 351.32) rotate(0.3) scale(1.0532 1)"><text x="0" y="0" font-size="2.686" text-anchor="start" fill="#000" stroke="#000" stroke-width="0.134">DWTaP+DO validation loss</text></g>
<polyline points="385.00,354.11 390.70,354.11" fill="none" stroke="#0000ff" stroke-width="0.62" stroke-linejoin="round" stroke-linecap="butt"/>
<g transform="translate(393.30 354.85) rotate(0.3) scale(1.0641 1)"><text x="0" y="0" font-size="2.686" text-anchor="start" fill="#000" stroke="#000" stroke-width="0.134">DWTaP+DO+DA training loss</text></g>
<polyline points="385.00,357.64 390.70,357.64" fill="none" stroke="#0000ff" stroke-width="0.62" stroke-dasharray="1.4 0.8" stroke-linejoin="round" stroke-linecap="butt"/>
<g transform="translate(393.30 358.38) rotate(0.3) scale(1.0636 1)"><text x="0" y="0" font-size="2.686" text-anchor="start" fill="#000" stroke="#000" stroke-width="0.134">DWTaP+DO+DA validation loss</text></g>
<polyline points="385.00,361.17 390.70,361.17" fill="none" stroke="#ff0000" stroke-width="0.713" stroke-linejoin="round" stroke-linecap="butt"/>
<g transform="translate(393.30 361.91) rotate(0.3) scale(1.0645 1)"><text x="0" y="0" font-size="2.686" text-anchor="start" fill="#000" stroke="#000" stroke-width="0.134">DWTaP+DO+DA+BN training loss</text></g>
<polyline points="385.00,364.70 390.70,364.70" fill="none" stroke="#ff0000" stroke-width="0.62" stroke-dasharray="1.4 0.8" stroke-linejoin="round" stroke-linecap="butt"/>
<g transform="translate(393.30 365.44) rotate(0.3) scale(1.0640 1)"><text x="0" y="0" font-size="2.686" text-anchor="start" fill="#000" stroke="#000" stroke-width="0.134">DWTaP+DO+DA+BN validation loss</text></g>
<rect x="326.1" y="336.5" width="115.19999999999999" height="66.80000000000001" fill="none" stroke="#555" stroke-width="0.56"/>
<line x1="329.80" y1="403.3" x2="329.80" y2="404.40" stroke="#333" stroke-width="0.50"/>
<g transform="translate(329.80 407.10) rotate(0.3) scale(1.0895 1)"><text x="0" y="0" font-size="2.686" text-anchor="middle" fill="#000" stroke="#000" stroke-width="0.134">0</text></g>
<line x1="343.97" y1="403.3" x2="343.97" y2="404.40" stroke="#333" stroke-width="0.50"/>
<g transform="translate(343.97 407.10) rotate(0.3) scale(1.0895 1)"><text x="0" y="0" font-size="2.686" text-anchor="middle" fill="#000" stroke="#000" stroke-width="0.134">10</text></g>
<line x1="358.14" y1="403.3" x2="358.14" y2="404.40" stroke="#333" stroke-width="0.50"/>
<g transform="translate(358.14 407.10) rotate(0.3) scale(1.0895 1)"><text x="0" y="0" font-size="2.686" text-anchor="middle" fill="#000" stroke="#000" stroke-width="0.134">20</text></g>
<line x1="372.31" y1="403.3" x2="372.31" y2="404.40" stroke="#333" stroke-width="0.50"/>
<g transform="translate(372.31 407.10) rotate(0.3) scale(1.0895 1)"><text x="0" y="0" font-size="2.686" text-anchor="middle" fill="#000" stroke="#000" stroke-width="0.134">30</text></g>
<line x1="386.48" y1="403.3" x2="386.48" y2="404.40" stroke="#333" stroke-width="0.50"/>
<g transform="translate(386.48 407.10) rotate(0.3) scale(1.0895 1)"><text x="0" y="0" font-size="2.686" text-anchor="middle" fill="#000" stroke="#000" stroke-width="0.134">40</text></g>
<line x1="400.65" y1="403.3" x2="400.65" y2="404.40" stroke="#333" stroke-width="0.50"/>
<g transform="translate(400.65 407.10) rotate(0.3) scale(1.0895 1)"><text x="0" y="0" font-size="2.686" text-anchor="middle" fill="#000" stroke="#000" stroke-width="0.134">50</text></g>
<line x1="414.82" y1="403.3" x2="414.82" y2="404.40" stroke="#333" stroke-width="0.50"/>
<g transform="translate(414.82 407.10) rotate(0.3) scale(1.0895 1)"><text x="0" y="0" font-size="2.686" text-anchor="middle" fill="#000" stroke="#000" stroke-width="0.134">60</text></g>
<line x1="428.99" y1="403.3" x2="428.99" y2="404.40" stroke="#333" stroke-width="0.50"/>
<g transform="translate(428.99 407.10) rotate(0.3) scale(1.0895 1)"><text x="0" y="0" font-size="2.686" text-anchor="middle" fill="#000" stroke="#000" stroke-width="0.134">70</text></g>
<line x1="325.00" y1="400.50" x2="326.1" y2="400.50" stroke="#333" stroke-width="0.50"/>
<g transform="translate(324.10 401.24) rotate(0.3) scale(1.0895 1)"><text x="0" y="0" font-size="2.686" text-anchor="end" fill="#000" stroke="#000" stroke-width="0.134">0</text></g>
<line x1="325.00" y1="385.60" x2="326.1" y2="385.60" stroke="#333" stroke-width="0.50"/>
<g transform="translate(324.10 386.34) rotate(0.3) scale(1.0895 1)"><text x="0" y="0" font-size="2.686" text-anchor="end" fill="#000" stroke="#000" stroke-width="0.134">5</text></g>
<line x1="325.00" y1="370.70" x2="326.1" y2="370.70" stroke="#333" stroke-width="0.50"/>
<g transform="translate(324.10 371.44) rotate(0.3) scale(1.0895 1)"><text x="0" y="0" font-size="2.686" text-anchor="end" fill="#000" stroke="#000" stroke-width="0.134">10</text></g>
<line x1="325.00" y1="355.80" x2="326.1" y2="355.80" stroke="#333" stroke-width="0.50"/>
<g transform="translate(324.10 356.54) rotate(0.3) scale(1.0895 1)"><text x="0" y="0" font-size="2.686" text-anchor="end" fill="#000" stroke="#000" stroke-width="0.134">15</text></g>
<line x1="325.00" y1="340.90" x2="326.1" y2="340.90" stroke="#333" stroke-width="0.50"/>
<g transform="translate(324.10 341.64) rotate(0.3) scale(1.0895 1)"><text x="0" y="0" font-size="2.686" text-anchor="end" fill="#000" stroke="#000" stroke-width="0.134">20</text></g>
<g transform="translate(383.70 410.60) rotate(0.3) scale(1.0231 1)"><text x="0" y="0" font-size="2.686" text-anchor="middle" fill="#000" stroke="#000" stroke-width="0.134">Epochs</text></g>
<g transform="translate(319.40 369.90) rotate(-89.7) scale(1.0239 1)"><text x="0" y="0" font-size="3.089" text-anchor="middle" fill="#000" stroke="#000" stroke-width="0.154">Loss (%)</text></g>
<g transform="translate(383.70 334.60) rotate(0.3) scale(1.1215 1)"><text x="0" y="0" font-size="4.357" text-anchor="middle" font-weight="bold" fill="#000" stroke="#000" stroke-width="0.261">Training and validation accu &amp; loss</text></g>
<g transform="translate(381.80 328.90) rotate(0.3) scale(1.0293 1)"><text x="0" y="0" font-size="2.686" text-anchor="middle" fill="#000" stroke="#000" stroke-width="0.134">DTD47</text></g>
<text x="337.7" y="428.1" style="font-family:'Liberation Serif',serif" font-size="9.4" textLength="83.6" lengthAdjust="spacingAndGlyphs" fill="#1a1a1a" stroke="#1a1a1a" stroke-width="0.22">(h) DWTaPooling-Loss.</text>
<clipPath id="cpi"><rect x="99" y="451.7" width="115.6" height="67.50000000000006"/></clipPath>
<g clip-path="url(#cpi)">
<polyline points="104.30,515.10 106.90,509.10 108.90,495.90 110.20,474.80 111.60,458.90 113.50,455.00 117.50,454.30 129.40,454.30" fill="none" stroke="#bfbf00" stroke-width="0.62" stroke-linejoin="round" stroke-linecap="butt"/>
<polyline points="104.30,515.30 107.20,508.50 109.10,495.00 110.50,474.00 111.80,458.50 113.80,455.00 117.50,454.60 129.40,454.60" fill="none" stroke="#bfbf00" stroke-width="0.62" stroke-dasharray="1.4 0.8" stroke-linejoin="round" stroke-linecap="butt"/>
<polyline points="104.30,515.50 111.60,513.10 113.50,503.90 114.90,490.60 116.80,477.40 118.80,469.50 121.50,464.20 125.40,460.90 129.40,459.20 133.40,458.30 135.30,459.60 137.30,458.90" fill="none" stroke="#c41ccf" stroke-width="0.713" stroke-linejoin="round" stroke-linecap="butt"/>
<polyline points="104.30,515.50 112.00,513.00 113.90,503.50 115.30,490.00 117.20,477.00 119.20,469.20 121.90,464.00 125.80,460.70 129.80,459.10 133.60,458.40 137.30,459.10" fill="none" stroke="#c41ccf" stroke-width="0.62" stroke-dasharray="1.4 0.8" stroke-linejoin="round" stroke-linecap="butt"/>
<polyline points="104.30,515.80 125.40,514.40 159.00,512.50 175.30,511.90 208.80,510.60" fill="none" stroke="#0000ff" stroke-width="0.62" stroke-linejoin="round" stroke-linecap="butt"/>
<polyline points="103.70,516.00 136.70,513.60 175.30,512.20 208.80,510.20" fill="none" stroke="#0000ff" stroke-width="0.62" stroke-dasharray="1.4 0.8" stroke-linejoin="round" stroke-linecap="butt"/>
<polyline points="104.30,515.10 112.20,511.80 125.40,510.50 138.60,509.80 159.00,508.50 175.30,508.00" fill="none" stroke="#ff0000" stroke-width="0.713" stroke-linejoin="round" stroke-linecap="butt"/>
<polyline points="103.70,514.40 113.50,511.00 123.80,509.80 135.00,508.50 149.50,508.60 160.00,507.50 175.30,507.20" fill="none" stroke="#ff0000" stroke-width="0.62" stroke-dasharray="1.4 0.8" stroke-linejoin="round" stroke-linecap="butt"/>
</g>
<rect x="156" y="452.6" width="56.69999999999999" height="30.399999999999977" fill="#fff" fill-opacity="0.8" stroke="#cccccc" stroke-width="0.37" rx="0.75"/>
<polyline points="157.20,455.00 162.90,455.00" fill="none" stroke="#bfbf00" stroke-width="0.62" stroke-linejoin="round" stroke-linecap="butt"/>
<g transform="translate(165.50 455.74) rotate(0.3) scale(1.0550 1)"><text x="0" y="0" font-size="2.686" text-anchor="start" fill="#000" stroke="#000" stroke-width="0.134">DWTdP training acc</text></g>
<polyline points="157.20,458.64 162.90,458.64" fill="none" stroke="#bfbf00" stroke-width="0.62" stroke-dasharray="1.4 0.8" stroke-linejoin="round" stroke-linecap="butt"/>
<g transform="translate(165.50 459.38) rotate(0.3) scale(1.0552 1)"><text x="0" y="0" font-size="2.686" text-anchor="start" fill="#000" stroke="#000" stroke-width="0.134">DWTdP validation acc</text></g>
<polyline points="157.20,462.29 162.90,462.29" fill="none" stroke="#c41ccf" stroke-width="0.713" stroke-linejoin="round" stroke-linecap="butt"/>
<g transform="translate(165.50 463.02) rotate(0.3) scale(1.0608 1)"><text x="0" y="0" font-size="2.686" text-anchor="start" fill="#000" stroke="#000" stroke-width="0.134">DWTdP+DO training acc</text></g>
<polyline points="157.20,465.93 162.90,465.93" fill="none" stroke="#c41ccf" stroke-width="0.62" stroke-dasharray="1.4 0.8" stroke-linejoin="round" stroke-linecap="butt"/>
<g transform="translate(165.50 466.67) rotate(0.3) scale(1.0605 1)"><text x="0" y="0" font-size="2.686" text-anchor="start" fill="#000" stroke="#000" stroke-width="0.134">DWTdP+DO validation acc</text></g>
<polyline points="157.20,469.57 162.90,469.57" fill="none" stroke="#0000ff" stroke-width="0.62" stroke-linejoin="round" stroke-linecap="butt"/>
<g transform="translate(165.50 470.31) rotate(0.3) scale(1.0710 1)"><text x="0" y="0" font-size="2.686" text-anchor="start" fill="#000" stroke="#000" stroke-width="0.134">DWTdP+DO+DA training acc</text></g>
<polyline points="157.20,473.21 162.90,473.21" fill="none" stroke="#0000ff" stroke-width="0.62" stroke-dasharray="1.4 0.8" stroke-linejoin="round" stroke-linecap="butt"/>
<g transform="translate(165.50 473.95) rotate(0.3) scale(1.0700 1)"><text x="0" y="0" font-size="2.686" text-anchor="start" fill="#000" stroke="#000" stroke-width="0.134">DWTdP+DO+DA validation acc</text></g>
<polyline points="157.20,476.86 162.90,476.86" fill="none" stroke="#ff0000" stroke-width="0.713" stroke-linejoin="round" stroke-linecap="butt"/>
<g transform="translate(165.50 477.59) rotate(0.3) scale(1.0704 1)"><text x="0" y="0" font-size="2.686" text-anchor="start" fill="#000" stroke="#000" stroke-width="0.134">DWTdP+DO+DA+BN training acc</text></g>
<polyline points="157.20,480.50 162.90,480.50" fill="none" stroke="#ff0000" stroke-width="0.62" stroke-dasharray="1.4 0.8" stroke-linejoin="round" stroke-linecap="butt"/>
<g transform="translate(165.50 481.24) rotate(0.3) scale(1.0696 1)"><text x="0" y="0" font-size="2.686" text-anchor="start" fill="#000" stroke="#000" stroke-width="0.134">DWTdP+DO+DA+BN validation acc</text></g>
<rect x="99" y="451.7" width="115.6" height="67.50000000000006" fill="none" stroke="#555" stroke-width="0.56"/>
<line x1="103.50" y1="519.2" x2="103.50" y2="520.30" stroke="#333" stroke-width="0.50"/>
<g transform="translate(103.50 523.00) rotate(0.3) scale(1.0895 1)"><text x="0" y="0" font-size="2.686" text-anchor="middle" fill="#000" stroke="#000" stroke-width="0.134">0</text></g>
<line x1="118.35" y1="519.2" x2="118.35" y2="520.30" stroke="#333" stroke-width="0.50"/>
<g transform="translate(118.35 523.00) rotate(0.3) scale(1.0895 1)"><text x="0" y="0" font-size="2.686" text-anchor="middle" fill="#000" stroke="#000" stroke-width="0.134">10</text></g>
<line x1="133.20" y1="519.2" x2="133.20" y2="520.30" stroke="#333" stroke-width="0.50"/>
<g transform="translate(133.20 523.00) rotate(0.3) scale(1.0895 1)"><text x="0" y="0" font-size="2.686" text-anchor="middle" fill="#000" stroke="#000" stroke-width="0.134">20</text></g>
<line x1="148.05" y1="519.2" x2="148.05" y2="520.30" stroke="#333" stroke-width="0.50"/>
<g transform="translate(148.05 523.00) rotate(0.3) scale(1.0895 1)"><text x="0" y="0" font-size="2.686" text-anchor="middle" fill="#000" stroke="#000" stroke-width="0.134">30</text></g>
<line x1="162.90" y1="519.2" x2="162.90" y2="520.30" stroke="#333" stroke-width="0.50"/>
<g transform="translate(162.90 523.00) rotate(0.3) scale(1.0895 1)"><text x="0" y="0" font-size="2.686" text-anchor="middle" fill="#000" stroke="#000" stroke-width="0.134">40</text></g>
<line x1="177.75" y1="519.2" x2="177.75" y2="520.30" stroke="#333" stroke-width="0.50"/>
<g transform="translate(177.75 523.00) rotate(0.3) scale(1.0895 1)"><text x="0" y="0" font-size="2.686" text-anchor="middle" fill="#000" stroke="#000" stroke-width="0.134">50</text></g>
<line x1="192.60" y1="519.2" x2="192.60" y2="520.30" stroke="#333" stroke-width="0.50"/>
<g transform="translate(192.60 523.00) rotate(0.3) scale(1.0895 1)"><text x="0" y="0" font-size="2.686" text-anchor="middle" fill="#000" stroke="#000" stroke-width="0.134">60</text></g>
<line x1="207.45" y1="519.2" x2="207.45" y2="520.30" stroke="#333" stroke-width="0.50"/>
<g transform="translate(207.45 523.00) rotate(0.3) scale(1.0895 1)"><text x="0" y="0" font-size="2.686" text-anchor="middle" fill="#000" stroke="#000" stroke-width="0.134">70</text></g>
<line x1="97.90" y1="516.60" x2="99" y2="516.60" stroke="#333" stroke-width="0.50"/>
<g transform="translate(97.00 517.34) rotate(0.3) scale(1.0895 1)"><text x="0" y="0" font-size="2.686" text-anchor="end" fill="#000" stroke="#000" stroke-width="0.134">0.0</text></g>
<line x1="97.90" y1="504.25" x2="99" y2="504.25" stroke="#333" stroke-width="0.50"/>
<g transform="translate(97.00 504.99) rotate(0.3) scale(1.0895 1)"><text x="0" y="0" font-size="2.686" text-anchor="end" fill="#000" stroke="#000" stroke-width="0.134">0.2</text></g>
<line x1="97.90" y1="491.90" x2="99" y2="491.90" stroke="#333" stroke-width="0.50"/>
<g transform="translate(97.00 492.64) rotate(0.3) scale(1.0895 1)"><text x="0" y="0" font-size="2.686" text-anchor="end" fill="#000" stroke="#000" stroke-width="0.134">0.4</text></g>
<line x1="97.90" y1="479.55" x2="99" y2="479.55" stroke="#333" stroke-width="0.50"/>
<g transform="translate(97.00 480.29) rotate(0.3) scale(1.0895 1)"><text x="0" y="0" font-size="2.686" text-anchor="end" fill="#000" stroke="#000" stroke-width="0.134">0.6</text></g>
<line x1="97.90" y1="467.20" x2="99" y2="467.20" stroke="#333" stroke-width="0.50"/>
<g transform="translate(97.00 467.94) rotate(0.3) scale(1.0895 1)"><text x="0" y="0" font-size="2.686" text-anchor="end" fill="#000" stroke="#000" stroke-width="0.134">0.8</text></g>
<line x1="97.90" y1="454.85" x2="99" y2="454.85" stroke="#333" stroke-width="0.50"/>
<g transform="translate(97.00 455.59) rotate(0.3) scale(1.0895 1)"><text x="0" y="0" font-size="2.686" text-anchor="end" fill="#000" stroke="#000" stroke-width="0.134">1.0</text></g>
<g transform="translate(156.80 526.50) rotate(0.3) scale(1.0231 1)"><text x="0" y="0" font-size="2.686" text-anchor="middle" fill="#000" stroke="#000" stroke-width="0.134">Epochs</text></g>
<g transform="translate(91.50 485.45) rotate(-89.7) scale(1.0580 1)"><text x="0" y="0" font-size="3.089" text-anchor="middle" fill="#000" stroke="#000" stroke-width="0.154">Accuracy(%)</text></g>
<g transform="translate(156.80 449.80) rotate(0.3) scale(1.1215 1)"><text x="0" y="0" font-size="4.357" text-anchor="middle" font-weight="bold" fill="#000" stroke="#000" stroke-width="0.261">Training and validation accu &amp; loss</text></g>
<g transform="translate(154.90 444.10) rotate(0.3) scale(1.0293 1)"><text x="0" y="0" font-size="2.686" text-anchor="middle" fill="#000" stroke="#000" stroke-width="0.134">DTD47</text></g>
<text x="113.2" y="543.4" style="font-family:'Liberation Serif',serif" font-size="9.4" textLength="84.7" lengthAdjust="spacingAndGlyphs" fill="#1a1a1a" stroke="#1a1a1a" stroke-width="0.22">(i) DWTdPooling-Acc.</text>
<clipPath id="cpj"><rect x="250.5" y="451.9" width="115.10000000000002" height="67.30000000000007"/></clipPath>
<g clip-path="url(#cpj)">
<polyline points="255.30,478.10 260.60,477.40 261.90,470.80 263.20,465.50 265.90,460.90 269.80,458.30 275.10,456.30 281.70,454.30" fill="none" stroke="#bfbf00" stroke-width="0.62" stroke-dasharray="1.4 0.8" stroke-linejoin="round" stroke-linecap="butt"/>
<polyline points="255.30,478.80 259.90,480.70 261.90,490.60 262.60,503.90 263.90,514.40 265.90,516.00 281.10,516.00" fill="none" stroke="#bfbf00" stroke-width="0.62" stroke-linejoin="round" stroke-linecap="butt"/>
<polyline points="255.30,478.10 264.50,479.40 267.20,473.50 269.80,468.20 273.10,462.90 275.80,460.30 279.10,459.60 281.70,457.00 285.00,455.00 288.30,456.00" fill="none" stroke="#c41ccf" stroke-width="0.62" stroke-dasharray="1.4 0.8" stroke-linejoin="round" stroke-linecap="butt"/>
<polyline points="255.30,478.80 263.20,480.70 265.90,488.00 267.80,497.30 269.80,505.20 272.50,509.80 276.40,512.50 283.00,513.80 288.30,513.10" fill="none" stroke="#c41ccf" stroke-width="0.713" stroke-linejoin="round" stroke-linecap="butt"/>
<polyline points="255.30,478.10 310.00,479.40 359.80,480.90" fill="none" stroke="#0000ff" stroke-width="0.62" stroke-linejoin="round" stroke-linecap="butt"/>
<polyline points="255.30,478.40 310.00,479.70 359.80,481.20" fill="none" stroke="#0000ff" stroke-width="0.62" stroke-dasharray="1.4 0.8" stroke-linejoin="round" stroke-linecap="butt"/>
<polyline points="255.30,470.20 257.90,473.50 260.60,475.40 263.20,476.80 269.80,478.80 289.60,480.70 310.00,482.10 328.90,483.00" fill="none" stroke="#ff0000" stroke-width="0.713" stroke-linejoin="round" stroke-linecap="butt"/>
<polyline points="255.30,478.10 269.80,480.10 289.60,481.10 310.00,481.40 328.90,481.60" fill="none" stroke="#ff0000" stroke-width="0.62" stroke-dasharray="1.4 0.8" stroke-linejoin="round" stroke-linecap="butt"/>
</g>
<rect x="307" y="487.4" width="56.69999999999999" height="30.899999999999977" fill="#fff" fill-opacity="0.8" stroke="#cccccc" stroke-width="0.37" rx="0.75"/>
<polyline points="308.20,489.80 313.90,489.80" fill="none" stroke="#bfbf00" stroke-width="0.62" stroke-linejoin="round" stroke-linecap="butt"/>
<g transform="translate(316.50 490.54) rotate(0.3) scale(1.0522 1)"><text x="0" y="0" font-size="2.686" text-anchor="start" fill="#000" stroke="#000" stroke-width="0.134">DWTdP training loss</text></g>
<polyline points="308.20,493.51 313.90,493.51" fill="none" stroke="#bfbf00" stroke-width="0.62" stroke-dasharray="1.4 0.8" stroke-linejoin="round" stroke-linecap="butt"/>
<g transform="translate(316.50 494.25) rotate(0.3) scale(1.0526 1)"><text x="0" y="0" font-size="2.686" text-anchor="start" fill="#000" stroke="#000" stroke-width="0.134">DWTdP validation loss</text></g>
<polyline points="308.20,497.23 313.90,497.23" fill="none" stroke="#c41ccf" stroke-width="0.713" stroke-linejoin="round" stroke-linecap="butt"/>
<g transform="translate(316.50 497.97) rotate(0.3) scale(1.0584 1)"><text x="0" y="0" font-size="2.686" text-anchor="start" fill="#000" stroke="#000" stroke-width="0.134">DWTdP+DO training loss</text></g>
<polyline points="308.20,500.94 313.90,500.94" fill="none" stroke="#c41ccf" stroke-width="0.62" stroke-dasharray="1.4 0.8" stroke-linejoin="round" stroke-linecap="butt"/>
<g transform="translate(316.50 501.68) rotate(0.3) scale(1.0583 1)"><text x="0" y="0" font-size="2.686" text-anchor="start" fill="#000" stroke="#000" stroke-width="0.134">DWTdP+DO validation loss</text></g>
<polyline points="308.20,504.66 313.90,504.66" fill="none" stroke="#0000ff" stroke-width="0.62" stroke-linejoin="round" stroke-linecap="butt"/>
<g transform="translate(316.50 505.39) rotate(0.3) scale(1.0687 1)"><text x="0" y="0" font-size="2.686" text-anchor="start" fill="#000" stroke="#000" stroke-width="0.134">DWTdP+DO+DA training loss</text></g>
<polyline points="308.20,508.37 313.90,508.37" fill="none" stroke="#0000ff" stroke-width="0.62" stroke-dasharray="1.4 0.8" stroke-linejoin="round" stroke-linecap="butt"/>
<g transform="translate(316.50 509.11) rotate(0.3) scale(1.0680 1)"><text x="0" y="0" font-size="2.686" text-anchor="start" fill="#000" stroke="#000" stroke-width="0.134">DWTdP+DO+DA validation loss</text></g>
<polyline points="308.20,512.09 313.90,512.09" fill="none" stroke="#ff0000" stroke-width="0.713" stroke-linejoin="round" stroke-linecap="butt"/>
<g transform="translate(316.50 512.82) rotate(0.3) scale(1.0685 1)"><text x="0" y="0" font-size="2.686" text-anchor="start" fill="#000" stroke="#000" stroke-width="0.134">DWTdP+DO+DA+BN training loss</text></g>
<polyline points="308.20,515.80 313.90,515.80" fill="none" stroke="#ff0000" stroke-width="0.62" stroke-dasharray="1.4 0.8" stroke-linejoin="round" stroke-linecap="butt"/>
<g transform="translate(316.50 516.54) rotate(0.3) scale(1.0678 1)"><text x="0" y="0" font-size="2.686" text-anchor="start" fill="#000" stroke="#000" stroke-width="0.134">DWTdP+DO+DA+BN validation loss</text></g>
<rect x="250.5" y="451.9" width="115.10000000000002" height="67.30000000000007" fill="none" stroke="#555" stroke-width="0.56"/>
<line x1="254.30" y1="519.2" x2="254.30" y2="520.30" stroke="#333" stroke-width="0.50"/>
<g transform="translate(254.30 523.00) rotate(0.3) scale(1.0895 1)"><text x="0" y="0" font-size="2.686" text-anchor="middle" fill="#000" stroke="#000" stroke-width="0.134">0</text></g>
<line x1="269.23" y1="519.2" x2="269.23" y2="520.30" stroke="#333" stroke-width="0.50"/>
<g transform="translate(269.23 523.00) rotate(0.3) scale(1.0895 1)"><text x="0" y="0" font-size="2.686" text-anchor="middle" fill="#000" stroke="#000" stroke-width="0.134">10</text></g>
<line x1="284.16" y1="519.2" x2="284.16" y2="520.30" stroke="#333" stroke-width="0.50"/>
<g transform="translate(284.16 523.00) rotate(0.3) scale(1.0895 1)"><text x="0" y="0" font-size="2.686" text-anchor="middle" fill="#000" stroke="#000" stroke-width="0.134">20</text></g>
<line x1="299.09" y1="519.2" x2="299.09" y2="520.30" stroke="#333" stroke-width="0.50"/>
<g transform="translate(299.09 523.00) rotate(0.3) scale(1.0895 1)"><text x="0" y="0" font-size="2.686" text-anchor="middle" fill="#000" stroke="#000" stroke-width="0.134">30</text></g>
<line x1="314.02" y1="519.2" x2="314.02" y2="520.30" stroke="#333" stroke-width="0.50"/>
<g transform="translate(314.02 523.00) rotate(0.3) scale(1.0895 1)"><text x="0" y="0" font-size="2.686" text-anchor="middle" fill="#000" stroke="#000" stroke-width="0.134">40</text></g>
<line x1="328.95" y1="519.2" x2="328.95" y2="520.30" stroke="#333" stroke-width="0.50"/>
<g transform="translate(328.95 523.00) rotate(0.3) scale(1.0895 1)"><text x="0" y="0" font-size="2.686" text-anchor="middle" fill="#000" stroke="#000" stroke-width="0.134">50</text></g>
<line x1="343.88" y1="519.2" x2="343.88" y2="520.30" stroke="#333" stroke-width="0.50"/>
<g transform="translate(343.88 523.00) rotate(0.3) scale(1.0895 1)"><text x="0" y="0" font-size="2.686" text-anchor="middle" fill="#000" stroke="#000" stroke-width="0.134">60</text></g>
<line x1="358.81" y1="519.2" x2="358.81" y2="520.30" stroke="#333" stroke-width="0.50"/>
<g transform="translate(358.81 523.00) rotate(0.3) scale(1.0895 1)"><text x="0" y="0" font-size="2.686" text-anchor="middle" fill="#000" stroke="#000" stroke-width="0.134">70</text></g>
<line x1="249.40" y1="515.80" x2="250.5" y2="515.80" stroke="#333" stroke-width="0.50"/>
<g transform="translate(248.50 516.54) rotate(0.3) scale(1.0895 1)"><text x="0" y="0" font-size="2.686" text-anchor="end" fill="#000" stroke="#000" stroke-width="0.134">0</text></g>
<line x1="249.40" y1="506.12" x2="250.5" y2="506.12" stroke="#333" stroke-width="0.50"/>
<g transform="translate(248.50 506.86) rotate(0.3) scale(1.0895 1)"><text x="0" y="0" font-size="2.686" text-anchor="end" fill="#000" stroke="#000" stroke-width="0.134">1</text></g>
<line x1="249.40" y1="496.44" x2="250.5" y2="496.44" stroke="#333" stroke-width="0.50"/>
<g transform="translate(248.50 497.18) rotate(0.3) scale(1.0895 1)"><text x="0" y="0" font-size="2.686" text-anchor="end" fill="#000" stroke="#000" stroke-width="0.134">2</text></g>
<line x1="249.40" y1="486.76" x2="250.5" y2="486.76" stroke="#333" stroke-width="0.50"/>
<g transform="translate(248.50 487.50) rotate(0.3) scale(1.0895 1)"><text x="0" y="0" font-size="2.686" text-anchor="end" fill="#000" stroke="#000" stroke-width="0.134">3</text></g>
<line x1="249.40" y1="477.08" x2="250.5" y2="477.08" stroke="#333" stroke-width="0.50"/>
<g transform="translate(248.50 477.82) rotate(0.3) scale(1.0895 1)"><text x="0" y="0" font-size="2.686" text-anchor="end" fill="#000" stroke="#000" stroke-width="0.134">4</text></g>
<line x1="249.40" y1="467.40" x2="250.5" y2="467.40" stroke="#333" stroke-width="0.50"/>
<g transform="translate(248.50 468.14) rotate(0.3) scale(1.0895 1)"><text x="0" y="0" font-size="2.686" text-anchor="end" fill="#000" stroke="#000" stroke-width="0.134">5</text></g>
<line x1="249.40" y1="457.72" x2="250.5" y2="457.72" stroke="#333" stroke-width="0.50"/>
<g transform="translate(248.50 458.46) rotate(0.3) scale(1.0895 1)"><text x="0" y="0" font-size="2.686" text-anchor="end" fill="#000" stroke="#000" stroke-width="0.134">6</text></g>
<g transform="translate(308.05 526.50) rotate(0.3) scale(1.0231 1)"><text x="0" y="0" font-size="2.686" text-anchor="middle" fill="#000" stroke="#000" stroke-width="0.134">Epochs</text></g>
<g transform="translate(245.50 485.55) rotate(-89.7) scale(1.0239 1)"><text x="0" y="0" font-size="3.089" text-anchor="middle" fill="#000" stroke="#000" stroke-width="0.154">Loss (%)</text></g>
<g transform="translate(308.05 450.00) rotate(0.3) scale(1.1215 1)"><text x="0" y="0" font-size="4.357" text-anchor="middle" font-weight="bold" fill="#000" stroke="#000" stroke-width="0.261">Training and validation accu &amp; loss</text></g>
<g transform="translate(306.15 444.30) rotate(0.3) scale(1.0293 1)"><text x="0" y="0" font-size="2.686" text-anchor="middle" fill="#000" stroke="#000" stroke-width="0.134">DTD47</text></g>
<text x="262.7" y="543.4" style="font-family:'Liberation Serif',serif" font-size="9.4" textLength="86.9" lengthAdjust="spacingAndGlyphs" fill="#1a1a1a" stroke="#1a1a1a" stroke-width="0.22">(j) DWTdPooling-Loss.</text>
</svg></body></html>
